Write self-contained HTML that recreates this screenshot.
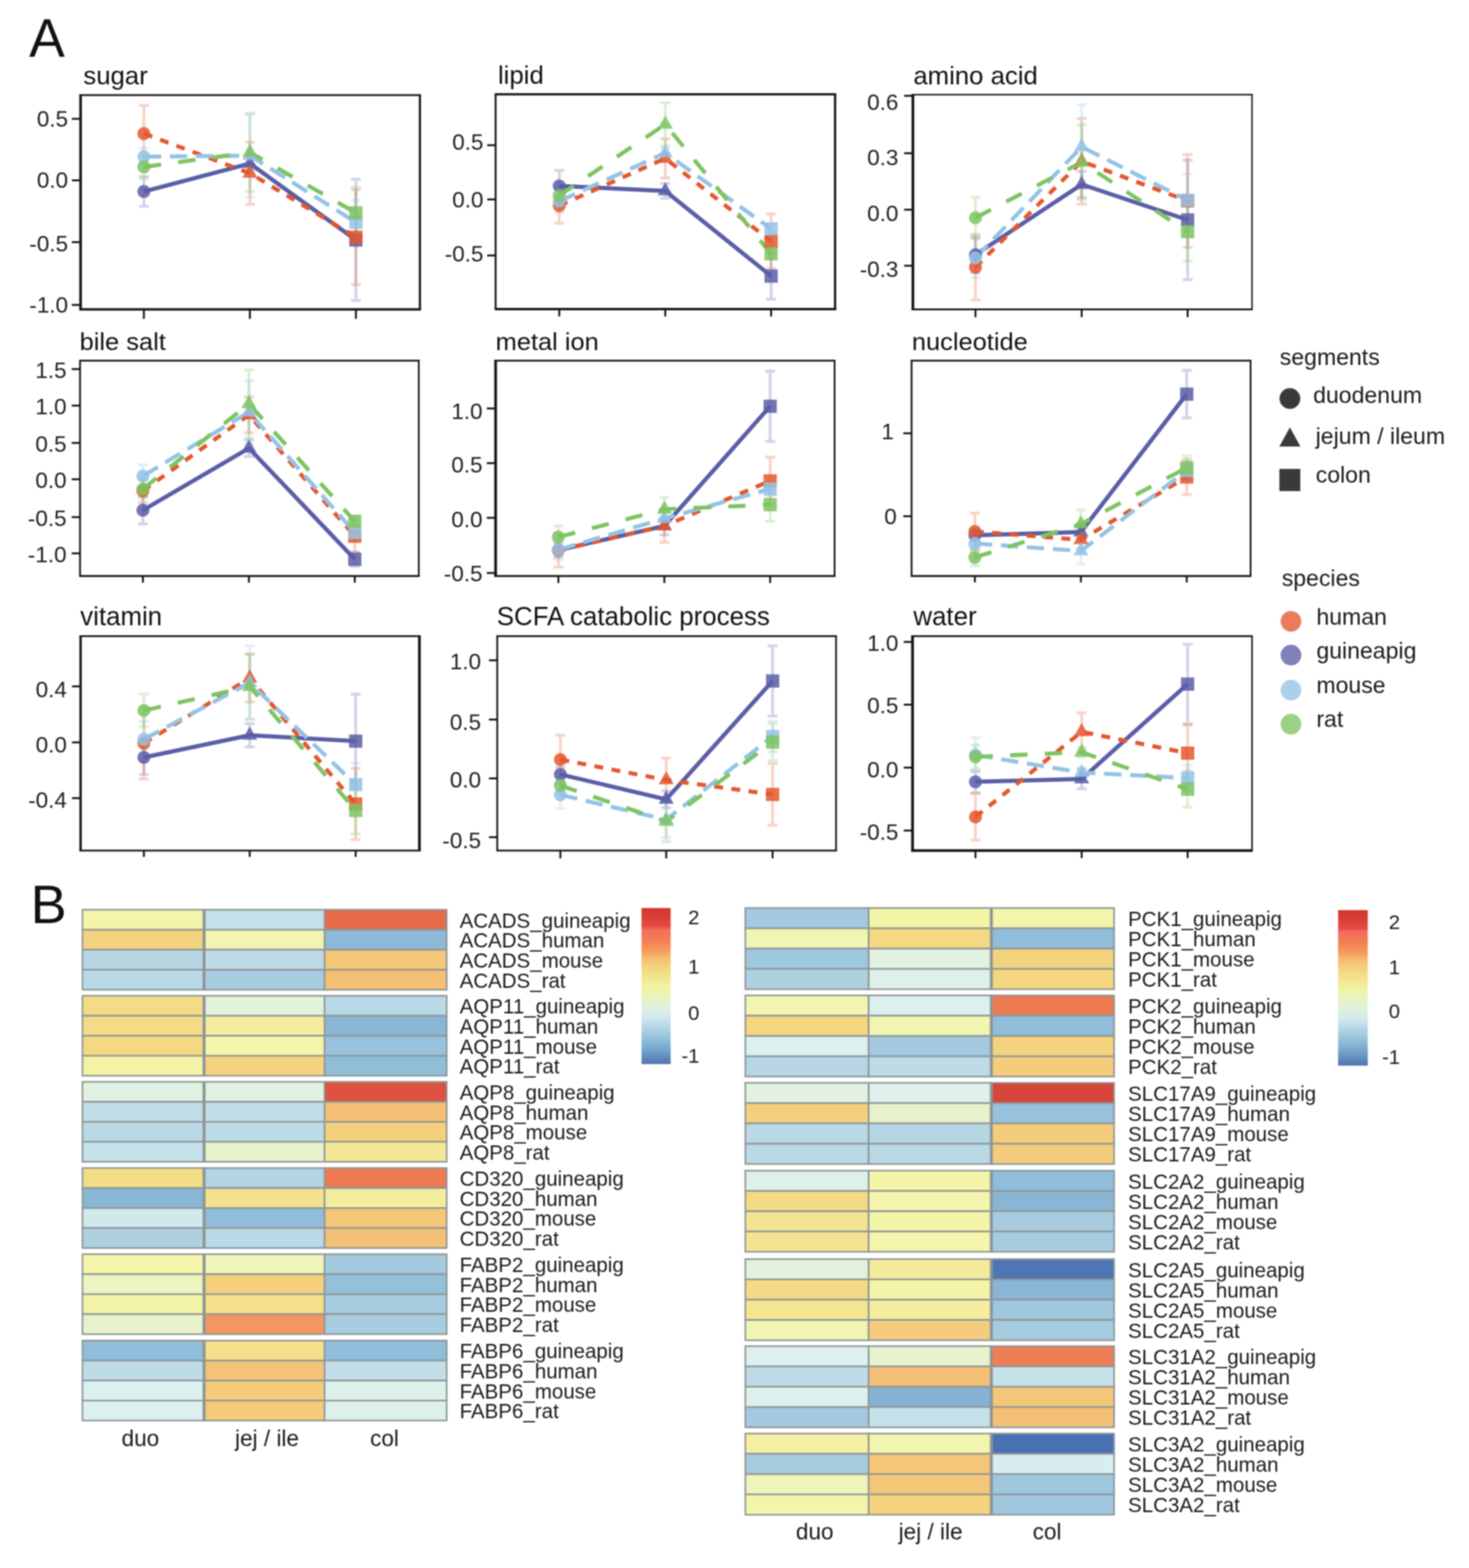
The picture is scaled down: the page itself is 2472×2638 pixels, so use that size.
<!DOCTYPE html>
<html lang="en">
<head>
<meta charset="utf-8">
<title>Figure: transporter expression along intestinal segments</title>
<style>
html,body{margin:0;padding:0;background:#fff;}
body{width:2472px;height:2638px;overflow:hidden;}
svg{display:block;filter:blur(0.8px);}
text{font-family:"Liberation Sans", sans-serif;}
</style>
</head>
<body>
<svg width="2472" height="2638" viewBox="0 0 2472 2638" font-family='"Liberation Sans", sans-serif' role="img" aria-label="Transporter expression along intestinal segments in four species">
<rect x="0" y="0" width="2472" height="2638" fill="#ffffff"/>
<text x="49.0" y="95.2" font-size="90" text-anchor="start" fill="#111">A</text>
<text x="51.5" y="1553.2" font-size="91" text-anchor="start" fill="#111">B</text>
<g>
<path d="M233.8,297.2H250.4M242.1,297.2V347.2M233.8,347.2H250.4" stroke="#5a5ea6" stroke-width="4.8" stroke-opacity="0.27" fill="none"/>
<path d="M412.2,265.2H428.8M420.5,265.2V285.2M412.2,285.2H428.8" stroke="#5a5ea6" stroke-width="4.8" stroke-opacity="0.27" fill="none"/>
<path d="M590.6,301.7H607.2M598.9,301.7V505.7M590.6,505.7H607.2" stroke="#5a5ea6" stroke-width="4.8" stroke-opacity="0.27" fill="none"/>
<path d="M233.8,177.4H250.4M242.1,177.4V272.0M233.8,272.0H250.4" stroke="#e4572e" stroke-width="4.8" stroke-opacity="0.27" fill="none"/>
<path d="M412.2,239.2H428.8M420.5,239.2V343.8M412.2,343.8H428.8" stroke="#e4572e" stroke-width="4.8" stroke-opacity="0.27" fill="none"/>
<path d="M590.6,319.0H607.2M598.9,319.0V479.0M590.6,479.0H607.2" stroke="#e4572e" stroke-width="4.8" stroke-opacity="0.27" fill="none"/>
<path d="M233.8,249.6H250.4M242.1,249.6V277.6M233.8,277.6H250.4" stroke="#94c3e6" stroke-width="4.8" stroke-opacity="0.27" fill="none"/>
<path d="M412.2,192.3H428.8M420.5,192.3V331.3M412.2,331.3H428.8" stroke="#94c3e6" stroke-width="4.8" stroke-opacity="0.27" fill="none"/>
<path d="M590.6,337.0H607.2M598.9,337.0V411.0M590.6,411.0H607.2" stroke="#94c3e6" stroke-width="4.8" stroke-opacity="0.27" fill="none"/>
<path d="M233.8,260.8H250.4M242.1,260.8V300.8M233.8,300.8H250.4" stroke="#7dc462" stroke-width="4.8" stroke-opacity="0.27" fill="none"/>
<path d="M412.2,190.5H428.8M420.5,190.5V322.5M412.2,322.5H428.8" stroke="#7dc462" stroke-width="4.8" stroke-opacity="0.27" fill="none"/>
<path d="M590.6,315.0H607.2M598.9,315.0V401.0M590.6,401.0H607.2" stroke="#7dc462" stroke-width="4.8" stroke-opacity="0.27" fill="none"/>
<polyline points="242.1,322.2 420.5,275.2 598.9,403.7" fill="none" stroke="#5a5ea6" stroke-width="7.0" stroke-linejoin="round"/>
<polyline points="242.1,224.7 420.5,291.5 598.9,399.0" fill="none" stroke="#e4572e" stroke-width="6.8" stroke-linejoin="round" stroke-dasharray="15.0 14.2"/>
<polyline points="242.1,263.6 420.5,261.8 598.9,374.0" fill="none" stroke="#94c3e6" stroke-width="6.8" stroke-linejoin="round" stroke-dasharray="29.2 14.6"/>
<polyline points="242.1,280.8 420.5,256.5 598.9,358.0" fill="none" stroke="#7dc462" stroke-width="6.8" stroke-linejoin="round" stroke-dasharray="29.2 29.2"/>
<circle cx="242.1" cy="322.2" r="10.9" fill="#5a5ea6" fill-opacity="0.85"/>
<polygon points="420.5,260.4 433.3,282.6 407.7,282.6" fill="#5a5ea6" fill-opacity="0.85"/>
<rect x="587.8" y="392.6" width="22.3" height="22.3" fill="#5a5ea6" fill-opacity="0.85"/>
<circle cx="242.1" cy="224.7" r="10.9" fill="#e4572e" fill-opacity="0.85"/>
<polygon points="420.5,276.7 433.3,298.9 407.7,298.9" fill="#e4572e" fill-opacity="0.85"/>
<rect x="587.8" y="387.9" width="22.3" height="22.3" fill="#e4572e" fill-opacity="0.85"/>
<circle cx="242.1" cy="263.6" r="10.9" fill="#94c3e6" fill-opacity="0.85"/>
<polygon points="420.5,247.0 433.3,269.2 407.7,269.2" fill="#94c3e6" fill-opacity="0.85"/>
<rect x="587.8" y="362.9" width="22.3" height="22.3" fill="#94c3e6" fill-opacity="0.85"/>
<circle cx="242.1" cy="280.8" r="10.9" fill="#7dc462" fill-opacity="0.85"/>
<polygon points="420.5,241.7 433.3,263.9 407.7,263.9" fill="#7dc462" fill-opacity="0.85"/>
<rect x="587.8" y="346.9" width="22.3" height="22.3" fill="#7dc462" fill-opacity="0.85"/>
<line x1="133.4" y1="160.0" x2="708.4" y2="160.0" stroke="#141414" stroke-width="3.2"/>
<line x1="133.4" y1="520.5" x2="708.4" y2="520.5" stroke="#141414" stroke-width="3.8"/>
<line x1="135.6" y1="160.0" x2="135.6" y2="520.5" stroke="#141414" stroke-width="4.4"/>
<line x1="706.6" y1="160.0" x2="706.6" y2="520.5" stroke="#141414" stroke-width="3.6"/>
<line x1="242.1" y1="520.5" x2="242.1" y2="536.4" stroke="#141414" stroke-width="3.2"/>
<line x1="420.5" y1="520.5" x2="420.5" y2="536.4" stroke="#141414" stroke-width="3.2"/>
<line x1="598.9" y1="520.5" x2="598.9" y2="536.4" stroke="#141414" stroke-width="3.2"/>
<line x1="120.9" y1="199.9" x2="135.6" y2="199.9" stroke="#141414" stroke-width="3.2"/>
<text x="114.5" y="212.9" font-size="37.8" text-anchor="end" fill="#222">0.5</text>
<line x1="120.9" y1="303.4" x2="135.6" y2="303.4" stroke="#141414" stroke-width="3.2"/>
<text x="114.5" y="315.7" font-size="37.8" text-anchor="end" fill="#222">0.0</text>
<line x1="120.9" y1="407.4" x2="135.6" y2="407.4" stroke="#141414" stroke-width="3.2"/>
<text x="114.5" y="422.7" font-size="37.8" text-anchor="end" fill="#222">-0.5</text>
<line x1="120.9" y1="513.0" x2="135.6" y2="513.0" stroke="#141414" stroke-width="3.2"/>
<text x="114.5" y="526.0" font-size="37.8" text-anchor="end" fill="#222">-1.0</text>
<text transform="translate(140.3,141.6) scale(1.0,1)" font-size="43.3" fill="#111">sugar</text>
</g>
<g>
<path d="M932.8,286.8H949.4M941.1,286.8V338.8M932.8,338.8H949.4" stroke="#5a5ea6" stroke-width="4.8" stroke-opacity="0.27" fill="none"/>
<path d="M1111.2,308.7H1127.8M1119.5,308.7V333.7M1111.2,333.7H1127.8" stroke="#5a5ea6" stroke-width="4.8" stroke-opacity="0.27" fill="none"/>
<path d="M1289.3,425.4H1305.9M1297.6,425.4V503.4M1289.3,503.4H1305.9" stroke="#5a5ea6" stroke-width="4.8" stroke-opacity="0.27" fill="none"/>
<path d="M932.8,316.5H949.4M941.1,316.5V375.7M932.8,375.7H949.4" stroke="#e4572e" stroke-width="4.8" stroke-opacity="0.27" fill="none"/>
<path d="M1111.2,233.5H1127.8M1119.5,233.5V299.5M1111.2,299.5H1127.8" stroke="#e4572e" stroke-width="4.8" stroke-opacity="0.27" fill="none"/>
<path d="M1289.3,359.9H1305.9M1297.6,359.9V451.9M1289.3,451.9H1305.9" stroke="#e4572e" stroke-width="4.8" stroke-opacity="0.27" fill="none"/>
<path d="M932.8,318.4H949.4M941.1,318.4V358.4M932.8,358.4H949.4" stroke="#94c3e6" stroke-width="4.8" stroke-opacity="0.27" fill="none"/>
<path d="M1111.2,248.4H1127.8M1119.5,248.4V266.4M1111.2,266.4H1127.8" stroke="#94c3e6" stroke-width="4.8" stroke-opacity="0.27" fill="none"/>
<path d="M1289.3,377.0H1305.9M1297.6,377.0V393.0M1289.3,393.0H1305.9" stroke="#94c3e6" stroke-width="4.8" stroke-opacity="0.27" fill="none"/>
<path d="M932.8,314.0H949.4M941.1,314.0V344.0M932.8,344.0H949.4" stroke="#7dc462" stroke-width="4.8" stroke-opacity="0.27" fill="none"/>
<path d="M1111.2,173.2H1127.8M1119.5,173.2V245.2M1111.2,245.2H1127.8" stroke="#7dc462" stroke-width="4.8" stroke-opacity="0.27" fill="none"/>
<path d="M1289.3,419.0H1305.9M1297.6,419.0V435.0M1289.3,435.0H1305.9" stroke="#7dc462" stroke-width="4.8" stroke-opacity="0.27" fill="none"/>
<polyline points="941.1,312.8 1119.5,321.2 1297.6,464.4" fill="none" stroke="#5a5ea6" stroke-width="7.0" stroke-linejoin="round"/>
<polyline points="941.1,346.1 1119.5,266.5 1297.6,405.9" fill="none" stroke="#e4572e" stroke-width="6.8" stroke-linejoin="round" stroke-dasharray="15.0 14.2"/>
<polyline points="941.1,338.4 1119.5,257.4 1297.6,385.0" fill="none" stroke="#94c3e6" stroke-width="6.8" stroke-linejoin="round" stroke-dasharray="29.2 14.6"/>
<polyline points="941.1,329.0 1119.5,209.2 1297.6,427.0" fill="none" stroke="#7dc462" stroke-width="6.8" stroke-linejoin="round" stroke-dasharray="29.2 29.2"/>
<circle cx="941.1" cy="312.8" r="10.9" fill="#5a5ea6" fill-opacity="0.85"/>
<polygon points="1119.5,306.4 1132.3,328.6 1106.7,328.6" fill="#5a5ea6" fill-opacity="0.85"/>
<rect x="1286.5" y="453.3" width="22.3" height="22.3" fill="#5a5ea6" fill-opacity="0.85"/>
<circle cx="941.1" cy="346.1" r="10.9" fill="#e4572e" fill-opacity="0.85"/>
<polygon points="1119.5,251.7 1132.3,273.9 1106.7,273.9" fill="#e4572e" fill-opacity="0.85"/>
<rect x="1286.5" y="394.8" width="22.3" height="22.3" fill="#e4572e" fill-opacity="0.85"/>
<circle cx="941.1" cy="338.4" r="10.9" fill="#94c3e6" fill-opacity="0.85"/>
<polygon points="1119.5,242.6 1132.3,264.8 1106.7,264.8" fill="#94c3e6" fill-opacity="0.85"/>
<rect x="1286.5" y="373.9" width="22.3" height="22.3" fill="#94c3e6" fill-opacity="0.85"/>
<circle cx="941.1" cy="329.0" r="10.9" fill="#7dc462" fill-opacity="0.85"/>
<polygon points="1119.5,194.4 1132.3,216.6 1106.7,216.6" fill="#7dc462" fill-opacity="0.85"/>
<rect x="1286.5" y="415.9" width="22.3" height="22.3" fill="#7dc462" fill-opacity="0.85"/>
<line x1="832.4" y1="158.7" x2="1407.2" y2="158.7" stroke="#141414" stroke-width="3.8"/>
<line x1="832.4" y1="520.0" x2="1407.2" y2="520.0" stroke="#141414" stroke-width="3.8"/>
<line x1="834.0" y1="158.7" x2="834.0" y2="520.0" stroke="#141414" stroke-width="3.2"/>
<line x1="1405.3" y1="158.7" x2="1405.3" y2="520.0" stroke="#141414" stroke-width="3.8"/>
<line x1="941.1" y1="520.0" x2="941.1" y2="532.4" stroke="#141414" stroke-width="3.2"/>
<line x1="1119.5" y1="520.0" x2="1119.5" y2="532.4" stroke="#141414" stroke-width="3.2"/>
<line x1="1297.6" y1="520.0" x2="1297.6" y2="532.4" stroke="#141414" stroke-width="3.2"/>
<line x1="819.9" y1="244.3" x2="834.0" y2="244.3" stroke="#141414" stroke-width="3.2"/>
<text x="813.6" y="251.5" font-size="37.8" text-anchor="end" fill="#222">0.5</text>
<line x1="819.9" y1="335.5" x2="834.0" y2="335.5" stroke="#141414" stroke-width="3.2"/>
<text x="813.6" y="348.5" font-size="37.8" text-anchor="end" fill="#222">0.0</text>
<line x1="819.9" y1="429.8" x2="834.0" y2="429.8" stroke="#141414" stroke-width="3.2"/>
<text x="813.6" y="440.0" font-size="37.8" text-anchor="end" fill="#222">-0.5</text>
<text transform="translate(838.0,140.8) scale(1.0,1)" font-size="43.3" fill="#111">lipid</text>
</g>
<g>
<path d="M1633.2,398.6H1649.8M1641.5,398.6V458.6M1633.2,458.6H1649.8" stroke="#5a5ea6" stroke-width="4.8" stroke-opacity="0.27" fill="none"/>
<path d="M1811.9,288.3H1828.5M1820.2,288.3V332.3M1811.9,332.3H1828.5" stroke="#5a5ea6" stroke-width="4.8" stroke-opacity="0.27" fill="none"/>
<path d="M1990.2,269.5H2006.8M1998.5,269.5V470.5M1990.2,470.5H2006.8" stroke="#5a5ea6" stroke-width="4.8" stroke-opacity="0.27" fill="none"/>
<path d="M1633.2,394.5H1649.8M1641.5,394.5V504.5M1633.2,504.5H1649.8" stroke="#e4572e" stroke-width="4.8" stroke-opacity="0.27" fill="none"/>
<path d="M1811.9,199.4H1828.5M1820.2,199.4V343.4M1811.9,343.4H1828.5" stroke="#e4572e" stroke-width="4.8" stroke-opacity="0.27" fill="none"/>
<path d="M1990.2,260.0H2006.8M1998.5,260.0V416.0M1990.2,416.0H2006.8" stroke="#e4572e" stroke-width="4.8" stroke-opacity="0.27" fill="none"/>
<path d="M1633.2,401.0H1649.8M1641.5,401.0V467.0M1633.2,467.0H1649.8" stroke="#94c3e6" stroke-width="4.8" stroke-opacity="0.27" fill="none"/>
<path d="M1811.9,176.5H1828.5M1820.2,176.5V317.7M1811.9,317.7H1828.5" stroke="#94c3e6" stroke-width="4.8" stroke-opacity="0.27" fill="none"/>
<path d="M1990.2,293.2H2006.8M1998.5,293.2V380.4M1990.2,380.4H2006.8" stroke="#94c3e6" stroke-width="4.8" stroke-opacity="0.27" fill="none"/>
<path d="M1633.2,331.4H1649.8M1641.5,331.4V401.4M1633.2,401.4H1649.8" stroke="#7dc462" stroke-width="4.8" stroke-opacity="0.27" fill="none"/>
<path d="M1811.9,210.0H1828.5M1820.2,210.0V336.0M1811.9,336.0H1828.5" stroke="#7dc462" stroke-width="4.8" stroke-opacity="0.27" fill="none"/>
<path d="M1990.2,339.7H2006.8M1998.5,339.7V439.7M1990.2,439.7H2006.8" stroke="#7dc462" stroke-width="4.8" stroke-opacity="0.27" fill="none"/>
<polyline points="1641.5,428.6 1820.2,310.3 1998.5,370.0" fill="none" stroke="#5a5ea6" stroke-width="7.0" stroke-linejoin="round"/>
<polyline points="1641.5,449.5 1820.2,271.4 1998.5,338.0" fill="none" stroke="#e4572e" stroke-width="6.8" stroke-linejoin="round" stroke-dasharray="15.0 14.2"/>
<polyline points="1641.5,434.0 1820.2,247.1 1998.5,336.8" fill="none" stroke="#94c3e6" stroke-width="6.8" stroke-linejoin="round" stroke-dasharray="29.2 14.6"/>
<polyline points="1641.5,366.4 1820.2,273.0 1998.5,389.7" fill="none" stroke="#7dc462" stroke-width="6.8" stroke-linejoin="round" stroke-dasharray="29.2 29.2"/>
<circle cx="1641.5" cy="428.6" r="10.9" fill="#5a5ea6" fill-opacity="0.85"/>
<polygon points="1820.2,295.5 1833.0,317.7 1807.4,317.7" fill="#5a5ea6" fill-opacity="0.85"/>
<rect x="1987.4" y="358.9" width="22.3" height="22.3" fill="#5a5ea6" fill-opacity="0.85"/>
<circle cx="1641.5" cy="449.5" r="10.9" fill="#e4572e" fill-opacity="0.85"/>
<polygon points="1820.2,256.6 1833.0,278.8 1807.4,278.8" fill="#e4572e" fill-opacity="0.85"/>
<rect x="1987.4" y="326.9" width="22.3" height="22.3" fill="#e4572e" fill-opacity="0.85"/>
<circle cx="1641.5" cy="434.0" r="10.9" fill="#94c3e6" fill-opacity="0.85"/>
<polygon points="1820.2,232.3 1833.0,254.5 1807.4,254.5" fill="#94c3e6" fill-opacity="0.85"/>
<rect x="1987.4" y="325.7" width="22.3" height="22.3" fill="#94c3e6" fill-opacity="0.85"/>
<circle cx="1641.5" cy="366.4" r="10.9" fill="#7dc462" fill-opacity="0.85"/>
<polygon points="1820.2,258.2 1833.0,280.4 1807.4,280.4" fill="#7dc462" fill-opacity="0.85"/>
<rect x="1987.4" y="378.6" width="22.3" height="22.3" fill="#7dc462" fill-opacity="0.85"/>
<line x1="1533.9" y1="159.3" x2="2108.1" y2="159.3" stroke="#141414" stroke-width="2.4"/>
<line x1="1533.9" y1="520.5" x2="2108.1" y2="520.5" stroke="#141414" stroke-width="3.2"/>
<line x1="1536.2" y1="159.3" x2="1536.2" y2="520.5" stroke="#141414" stroke-width="4.6"/>
<line x1="2106.9" y1="159.3" x2="2106.9" y2="520.5" stroke="#141414" stroke-width="2.4"/>
<line x1="1641.5" y1="520.5" x2="1641.5" y2="533.6" stroke="#141414" stroke-width="3.2"/>
<line x1="1820.2" y1="520.5" x2="1820.2" y2="533.6" stroke="#141414" stroke-width="3.2"/>
<line x1="1998.5" y1="520.5" x2="1998.5" y2="533.6" stroke="#141414" stroke-width="3.2"/>
<line x1="1521.4" y1="161.2" x2="1536.2" y2="161.2" stroke="#141414" stroke-width="3.2"/>
<text x="1511.9" y="184.6" font-size="37.8" text-anchor="end" fill="#222">0.6</text>
<line x1="1521.4" y1="257.8" x2="1536.2" y2="257.8" stroke="#141414" stroke-width="3.2"/>
<text x="1511.9" y="277.7" font-size="37.8" text-anchor="end" fill="#222">0.3</text>
<line x1="1521.4" y1="352.8" x2="1536.2" y2="352.8" stroke="#141414" stroke-width="3.2"/>
<text x="1511.9" y="372.1" font-size="37.8" text-anchor="end" fill="#222">0.0</text>
<line x1="1521.4" y1="447.1" x2="1536.2" y2="447.1" stroke="#141414" stroke-width="3.2"/>
<text x="1511.9" y="465.9" font-size="37.8" text-anchor="end" fill="#222">-0.3</text>
<text transform="translate(1537.0,141.6) scale(1.0,1)" font-size="43.3" fill="#111">amino acid</text>
</g>
<g>
<path d="M232.2,835.4H248.8M240.5,835.4V881.4M232.2,881.4H248.8" stroke="#5a5ea6" stroke-width="4.8" stroke-opacity="0.27" fill="none"/>
<path d="M410.6,740.1H427.2M418.9,740.1V768.1M410.6,768.1H427.2" stroke="#5a5ea6" stroke-width="4.8" stroke-opacity="0.27" fill="none"/>
<path d="M588.7,928.9H605.3M597.0,928.9V952.9M588.7,952.9H605.3" stroke="#5a5ea6" stroke-width="4.8" stroke-opacity="0.27" fill="none"/>
<path d="M232.2,805.7H248.8M240.5,805.7V845.7M232.2,845.7H248.8" stroke="#e4572e" stroke-width="4.8" stroke-opacity="0.27" fill="none"/>
<path d="M410.6,668.0H427.2M418.9,668.0V728.0M410.6,728.0H427.2" stroke="#e4572e" stroke-width="4.8" stroke-opacity="0.27" fill="none"/>
<path d="M588.7,874.0H605.3M597.0,874.0V930.0M588.7,930.0H605.3" stroke="#e4572e" stroke-width="4.8" stroke-opacity="0.27" fill="none"/>
<path d="M232.2,781.8H248.8M240.5,781.8V819.8M232.2,819.8H248.8" stroke="#94c3e6" stroke-width="4.8" stroke-opacity="0.27" fill="none"/>
<path d="M410.6,640.4H427.2M418.9,640.4V746.4M410.6,746.4H427.2" stroke="#94c3e6" stroke-width="4.8" stroke-opacity="0.27" fill="none"/>
<path d="M588.7,880.8H605.3M597.0,880.8V910.8M588.7,910.8H605.3" stroke="#94c3e6" stroke-width="4.8" stroke-opacity="0.27" fill="none"/>
<path d="M232.2,807.6H248.8M240.5,807.6V837.6M232.2,837.6H248.8" stroke="#7dc462" stroke-width="4.8" stroke-opacity="0.27" fill="none"/>
<path d="M410.6,622.4H427.2M418.9,622.4V736.4M410.6,736.4H427.2" stroke="#7dc462" stroke-width="4.8" stroke-opacity="0.27" fill="none"/>
<path d="M588.7,868.0H605.3M597.0,868.0V886.0M588.7,886.0H605.3" stroke="#7dc462" stroke-width="4.8" stroke-opacity="0.27" fill="none"/>
<polyline points="240.5,858.4 418.9,754.1 597.0,940.9" fill="none" stroke="#5a5ea6" stroke-width="7.0" stroke-linejoin="round"/>
<polyline points="240.5,825.7 418.9,698.0 597.0,902.0" fill="none" stroke="#e4572e" stroke-width="6.8" stroke-linejoin="round" stroke-dasharray="15.0 14.2"/>
<polyline points="240.5,800.8 418.9,693.4 597.0,895.8" fill="none" stroke="#94c3e6" stroke-width="6.8" stroke-linejoin="round" stroke-dasharray="29.2 14.6"/>
<polyline points="240.5,822.6 418.9,679.4 597.0,877.0" fill="none" stroke="#7dc462" stroke-width="6.8" stroke-linejoin="round" stroke-dasharray="29.2 29.2"/>
<circle cx="240.5" cy="858.4" r="10.9" fill="#5a5ea6" fill-opacity="0.85"/>
<polygon points="418.9,739.3 431.7,761.5 406.1,761.5" fill="#5a5ea6" fill-opacity="0.85"/>
<rect x="585.9" y="929.8" width="22.3" height="22.3" fill="#5a5ea6" fill-opacity="0.85"/>
<circle cx="240.5" cy="825.7" r="10.9" fill="#e4572e" fill-opacity="0.85"/>
<polygon points="418.9,683.2 431.7,705.4 406.1,705.4" fill="#e4572e" fill-opacity="0.85"/>
<rect x="585.9" y="890.9" width="22.3" height="22.3" fill="#e4572e" fill-opacity="0.85"/>
<circle cx="240.5" cy="800.8" r="10.9" fill="#94c3e6" fill-opacity="0.85"/>
<polygon points="418.9,678.6 431.7,700.8 406.1,700.8" fill="#94c3e6" fill-opacity="0.85"/>
<rect x="585.9" y="884.7" width="22.3" height="22.3" fill="#94c3e6" fill-opacity="0.85"/>
<circle cx="240.5" cy="822.6" r="10.9" fill="#7dc462" fill-opacity="0.85"/>
<polygon points="418.9,664.6 431.7,686.8 406.1,686.8" fill="#7dc462" fill-opacity="0.85"/>
<rect x="585.9" y="865.9" width="22.3" height="22.3" fill="#7dc462" fill-opacity="0.85"/>
<line x1="133.2" y1="606.8" x2="706.2" y2="606.8" stroke="#141414" stroke-width="2.9"/>
<line x1="133.2" y1="969.2" x2="706.2" y2="969.2" stroke="#141414" stroke-width="3.2"/>
<line x1="134.7" y1="606.8" x2="134.7" y2="969.2" stroke="#141414" stroke-width="3.0"/>
<line x1="704.7" y1="606.8" x2="704.7" y2="969.2" stroke="#141414" stroke-width="2.9"/>
<line x1="240.5" y1="969.2" x2="240.5" y2="980.3" stroke="#141414" stroke-width="3.2"/>
<line x1="418.9" y1="969.2" x2="418.9" y2="980.3" stroke="#141414" stroke-width="3.2"/>
<line x1="597.0" y1="969.2" x2="597.0" y2="980.3" stroke="#141414" stroke-width="3.2"/>
<line x1="120.7" y1="620.9" x2="134.7" y2="620.9" stroke="#141414" stroke-width="3.2"/>
<text x="112.0" y="635.9" font-size="37.8" text-anchor="end" fill="#222">1.5</text>
<line x1="120.7" y1="682.4" x2="134.7" y2="682.4" stroke="#141414" stroke-width="3.2"/>
<text x="112.0" y="697.4" font-size="37.8" text-anchor="end" fill="#222">1.0</text>
<line x1="120.7" y1="745.2" x2="134.7" y2="745.2" stroke="#141414" stroke-width="3.2"/>
<text x="112.0" y="760.2" font-size="37.8" text-anchor="end" fill="#222">0.5</text>
<line x1="120.7" y1="806.3" x2="134.7" y2="806.3" stroke="#141414" stroke-width="3.2"/>
<text x="112.0" y="821.3" font-size="37.8" text-anchor="end" fill="#222">0.0</text>
<line x1="120.7" y1="870.0" x2="134.7" y2="870.0" stroke="#141414" stroke-width="3.2"/>
<text x="112.0" y="885.0" font-size="37.8" text-anchor="end" fill="#222">-0.5</text>
<line x1="120.7" y1="931.0" x2="134.7" y2="931.0" stroke="#141414" stroke-width="3.2"/>
<text x="112.0" y="946.0" font-size="37.8" text-anchor="end" fill="#222">-1.0</text>
<text transform="translate(134.0,588.5) scale(1.07,1)" font-size="40" fill="#111">bile salt</text>
</g>
<g>
<path d="M931.3,913.5H947.9M939.6,913.5V937.5M931.3,937.5H947.9" stroke="#5a5ea6" stroke-width="4.8" stroke-opacity="0.27" fill="none"/>
<path d="M1109.7,869.9H1126.3M1118.0,869.9V899.9M1109.7,899.9H1126.3" stroke="#5a5ea6" stroke-width="4.8" stroke-opacity="0.27" fill="none"/>
<path d="M1287.7,624.5H1304.3M1296.0,624.5V742.5M1287.7,742.5H1304.3" stroke="#5a5ea6" stroke-width="4.8" stroke-opacity="0.27" fill="none"/>
<path d="M931.3,898.0H947.9M939.6,898.0V954.0M931.3,954.0H947.9" stroke="#e4572e" stroke-width="4.8" stroke-opacity="0.27" fill="none"/>
<path d="M1109.7,857.5H1126.3M1118.0,857.5V912.3M1109.7,912.3H1126.3" stroke="#e4572e" stroke-width="4.8" stroke-opacity="0.27" fill="none"/>
<path d="M1287.7,769.0H1304.3M1296.0,769.0V849.0M1287.7,849.0H1304.3" stroke="#e4572e" stroke-width="4.8" stroke-opacity="0.27" fill="none"/>
<path d="M931.3,909.0H947.9M939.6,909.0V941.0M931.3,941.0H947.9" stroke="#94c3e6" stroke-width="4.8" stroke-opacity="0.27" fill="none"/>
<path d="M1109.7,857.4H1126.3M1118.0,857.4V887.4M1109.7,887.4H1126.3" stroke="#94c3e6" stroke-width="4.8" stroke-opacity="0.27" fill="none"/>
<path d="M1287.7,810.6H1304.3M1296.0,810.6V834.6M1287.7,834.6H1304.3" stroke="#94c3e6" stroke-width="4.8" stroke-opacity="0.27" fill="none"/>
<path d="M931.3,884.9H947.9M939.6,884.9V922.1M931.3,922.1H947.9" stroke="#7dc462" stroke-width="4.8" stroke-opacity="0.27" fill="none"/>
<path d="M1109.7,836.8H1126.3M1118.0,836.8V876.8M1109.7,876.8H1126.3" stroke="#7dc462" stroke-width="4.8" stroke-opacity="0.27" fill="none"/>
<path d="M1287.7,821.0H1304.3M1296.0,821.0V877.0M1287.7,877.0H1304.3" stroke="#7dc462" stroke-width="4.8" stroke-opacity="0.27" fill="none"/>
<polyline points="939.6,925.5 1118.0,884.9 1296.0,683.5" fill="none" stroke="#5a5ea6" stroke-width="7.0" stroke-linejoin="round"/>
<polyline points="939.6,926.0 1118.0,884.9 1296.0,809.0" fill="none" stroke="#e4572e" stroke-width="6.8" stroke-linejoin="round" stroke-dasharray="15.0 14.2"/>
<polyline points="939.6,925.0 1118.0,872.4 1296.0,822.6" fill="none" stroke="#94c3e6" stroke-width="6.8" stroke-linejoin="round" stroke-dasharray="29.2 14.6"/>
<polyline points="939.6,903.5 1118.0,856.8 1296.0,849.0" fill="none" stroke="#7dc462" stroke-width="6.8" stroke-linejoin="round" stroke-dasharray="29.2 29.2"/>
<circle cx="939.6" cy="925.5" r="10.9" fill="#5a5ea6" fill-opacity="0.85"/>
<polygon points="1118.0,870.1 1130.8,892.3 1105.2,892.3" fill="#5a5ea6" fill-opacity="0.85"/>
<rect x="1284.9" y="672.4" width="22.3" height="22.3" fill="#5a5ea6" fill-opacity="0.85"/>
<circle cx="939.6" cy="926.0" r="10.9" fill="#e4572e" fill-opacity="0.85"/>
<polygon points="1118.0,870.1 1130.8,892.3 1105.2,892.3" fill="#e4572e" fill-opacity="0.85"/>
<rect x="1284.9" y="797.9" width="22.3" height="22.3" fill="#e4572e" fill-opacity="0.85"/>
<circle cx="939.6" cy="925.0" r="10.9" fill="#94c3e6" fill-opacity="0.85"/>
<polygon points="1118.0,857.6 1130.8,879.8 1105.2,879.8" fill="#94c3e6" fill-opacity="0.85"/>
<rect x="1284.9" y="811.5" width="22.3" height="22.3" fill="#94c3e6" fill-opacity="0.85"/>
<circle cx="939.6" cy="903.5" r="10.9" fill="#7dc462" fill-opacity="0.85"/>
<polygon points="1118.0,842.0 1130.8,864.2 1105.2,864.2" fill="#7dc462" fill-opacity="0.85"/>
<rect x="1284.9" y="837.9" width="22.3" height="22.3" fill="#7dc462" fill-opacity="0.85"/>
<line x1="831.7" y1="606.8" x2="1405.9" y2="606.8" stroke="#141414" stroke-width="2.9"/>
<line x1="831.7" y1="969.2" x2="1405.9" y2="969.2" stroke="#141414" stroke-width="3.2"/>
<line x1="834.0" y1="606.8" x2="834.0" y2="969.2" stroke="#141414" stroke-width="4.6"/>
<line x1="1404.4" y1="606.8" x2="1404.4" y2="969.2" stroke="#141414" stroke-width="2.9"/>
<line x1="939.6" y1="969.2" x2="939.6" y2="980.8" stroke="#141414" stroke-width="3.2"/>
<line x1="1118.0" y1="969.2" x2="1118.0" y2="980.8" stroke="#141414" stroke-width="3.2"/>
<line x1="1296.0" y1="969.2" x2="1296.0" y2="980.8" stroke="#141414" stroke-width="3.2"/>
<line x1="819.2" y1="687.2" x2="834.0" y2="687.2" stroke="#141414" stroke-width="3.2"/>
<text x="812.0" y="704.8" font-size="37.8" text-anchor="end" fill="#222">1.0</text>
<line x1="819.2" y1="779.2" x2="834.0" y2="779.2" stroke="#141414" stroke-width="3.2"/>
<text x="812.0" y="794.5" font-size="37.8" text-anchor="end" fill="#222">0.5</text>
<line x1="819.2" y1="871.2" x2="834.0" y2="871.2" stroke="#141414" stroke-width="3.2"/>
<text x="812.0" y="886.5" font-size="37.8" text-anchor="end" fill="#222">0.0</text>
<line x1="819.2" y1="964.0" x2="834.0" y2="964.0" stroke="#141414" stroke-width="3.2"/>
<text x="812.0" y="977.7" font-size="37.8" text-anchor="end" fill="#222">-0.5</text>
<text transform="translate(834.0,588.5) scale(1.07,1)" font-size="40" fill="#111">metal ion</text>
</g>
<g>
<path d="M1632.2,890.4H1648.8M1640.5,890.4V910.4M1632.2,910.4H1648.8" stroke="#5a5ea6" stroke-width="4.8" stroke-opacity="0.27" fill="none"/>
<path d="M1810.6,883.1H1827.2M1818.9,883.1V907.1M1810.6,907.1H1827.2" stroke="#5a5ea6" stroke-width="4.8" stroke-opacity="0.27" fill="none"/>
<path d="M1988.7,623.0H2005.3M1997.0,623.0V703.0M1988.7,703.0H2005.3" stroke="#5a5ea6" stroke-width="4.8" stroke-opacity="0.27" fill="none"/>
<path d="M1632.2,863.2H1648.8M1640.5,863.2V925.2M1632.2,925.2H1648.8" stroke="#e4572e" stroke-width="4.8" stroke-opacity="0.27" fill="none"/>
<path d="M1810.6,893.2H1827.2M1818.9,893.2V923.2M1810.6,923.2H1827.2" stroke="#e4572e" stroke-width="4.8" stroke-opacity="0.27" fill="none"/>
<path d="M1988.7,772.9H2005.3M1997.0,772.9V831.9M1988.7,831.9H2005.3" stroke="#e4572e" stroke-width="4.8" stroke-opacity="0.27" fill="none"/>
<path d="M1632.2,902.4H1648.8M1640.5,902.4V926.4M1632.2,926.4H1648.8" stroke="#94c3e6" stroke-width="4.8" stroke-opacity="0.27" fill="none"/>
<path d="M1810.6,905.1H1827.2M1818.9,905.1V948.7M1810.6,948.7H1827.2" stroke="#94c3e6" stroke-width="4.8" stroke-opacity="0.27" fill="none"/>
<path d="M1988.7,776.5H2005.3M1997.0,776.5V806.5M1988.7,806.5H2005.3" stroke="#94c3e6" stroke-width="4.8" stroke-opacity="0.27" fill="none"/>
<path d="M1632.2,923.8H1648.8M1640.5,923.8V951.8M1632.2,951.8H1648.8" stroke="#7dc462" stroke-width="4.8" stroke-opacity="0.27" fill="none"/>
<path d="M1810.6,857.7H1827.2M1818.9,857.7V905.7M1810.6,905.7H1827.2" stroke="#7dc462" stroke-width="4.8" stroke-opacity="0.27" fill="none"/>
<path d="M1988.7,766.8H2005.3M1997.0,766.8V806.8M1988.7,806.8H2005.3" stroke="#7dc462" stroke-width="4.8" stroke-opacity="0.27" fill="none"/>
<polyline points="1640.5,900.4 1818.9,895.1 1997.0,663.0" fill="none" stroke="#5a5ea6" stroke-width="7.0" stroke-linejoin="round"/>
<polyline points="1640.5,894.2 1818.9,908.2 1997.0,802.4" fill="none" stroke="#e4572e" stroke-width="6.8" stroke-linejoin="round" stroke-dasharray="15.0 14.2"/>
<polyline points="1640.5,914.4 1818.9,926.9 1997.0,791.5" fill="none" stroke="#94c3e6" stroke-width="6.8" stroke-linejoin="round" stroke-dasharray="29.2 14.6"/>
<polyline points="1640.5,937.8 1818.9,881.7 1997.0,786.8" fill="none" stroke="#7dc462" stroke-width="6.8" stroke-linejoin="round" stroke-dasharray="29.2 29.2"/>
<circle cx="1640.5" cy="900.4" r="10.9" fill="#5a5ea6" fill-opacity="0.85"/>
<polygon points="1818.9,880.3 1831.7,902.5 1806.1,902.5" fill="#5a5ea6" fill-opacity="0.85"/>
<rect x="1985.9" y="651.9" width="22.3" height="22.3" fill="#5a5ea6" fill-opacity="0.85"/>
<circle cx="1640.5" cy="894.2" r="10.9" fill="#e4572e" fill-opacity="0.85"/>
<polygon points="1818.9,893.4 1831.7,915.6 1806.1,915.6" fill="#e4572e" fill-opacity="0.85"/>
<rect x="1985.9" y="791.3" width="22.3" height="22.3" fill="#e4572e" fill-opacity="0.85"/>
<circle cx="1640.5" cy="914.4" r="10.9" fill="#94c3e6" fill-opacity="0.85"/>
<polygon points="1818.9,912.1 1831.7,934.3 1806.1,934.3" fill="#94c3e6" fill-opacity="0.85"/>
<rect x="1985.9" y="780.4" width="22.3" height="22.3" fill="#94c3e6" fill-opacity="0.85"/>
<circle cx="1640.5" cy="937.8" r="10.9" fill="#7dc462" fill-opacity="0.85"/>
<polygon points="1818.9,866.9 1831.7,889.1 1806.1,889.1" fill="#7dc462" fill-opacity="0.85"/>
<rect x="1985.9" y="775.7" width="22.3" height="22.3" fill="#7dc462" fill-opacity="0.85"/>
<line x1="1532.5" y1="606.8" x2="2105.8" y2="606.8" stroke="#141414" stroke-width="2.9"/>
<line x1="1532.5" y1="969.2" x2="2105.8" y2="969.2" stroke="#141414" stroke-width="3.2"/>
<line x1="1534.0" y1="606.8" x2="1534.0" y2="969.2" stroke="#141414" stroke-width="3.0"/>
<line x1="2104.4" y1="606.8" x2="2104.4" y2="969.2" stroke="#141414" stroke-width="2.9"/>
<line x1="1640.5" y1="969.2" x2="1640.5" y2="979.8" stroke="#141414" stroke-width="3.2"/>
<line x1="1818.9" y1="969.2" x2="1818.9" y2="979.8" stroke="#141414" stroke-width="3.2"/>
<line x1="1997.0" y1="969.2" x2="1997.0" y2="979.8" stroke="#141414" stroke-width="3.2"/>
<line x1="1520.0" y1="729.0" x2="1534.0" y2="729.0" stroke="#141414" stroke-width="3.2"/>
<text x="1504.4" y="738.5" font-size="37.8" text-anchor="end" fill="#222">1</text>
<line x1="1520.0" y1="868.5" x2="1534.0" y2="868.5" stroke="#141414" stroke-width="3.2"/>
<text x="1509.0" y="881.5" font-size="37.8" text-anchor="end" fill="#222">0</text>
<text transform="translate(1534.5,588.5) scale(1.07,1)" font-size="40" fill="#111">nucleotide</text>
</g>
<g>
<path d="M233.8,1245.6H250.4M242.1,1245.6V1302.8M233.8,1302.8H250.4" stroke="#5a5ea6" stroke-width="4.8" stroke-opacity="0.27" fill="none"/>
<path d="M411.9,1217.5H428.5M420.2,1217.5V1256.5M411.9,1256.5H428.5" stroke="#5a5ea6" stroke-width="4.8" stroke-opacity="0.27" fill="none"/>
<path d="M590.2,1167.8H606.8M598.5,1167.8V1325.8M590.2,1325.8H606.8" stroke="#5a5ea6" stroke-width="4.8" stroke-opacity="0.27" fill="none"/>
<path d="M233.8,1190.5H250.4M242.1,1190.5V1310.5M233.8,1310.5H250.4" stroke="#e4572e" stroke-width="4.8" stroke-opacity="0.27" fill="none"/>
<path d="M411.9,1100.9H428.5M420.2,1100.9V1180.9M411.9,1180.9H428.5" stroke="#e4572e" stroke-width="4.8" stroke-opacity="0.27" fill="none"/>
<path d="M590.2,1292.6H606.8M598.5,1292.6V1412.6M590.2,1412.6H606.8" stroke="#e4572e" stroke-width="4.8" stroke-opacity="0.27" fill="none"/>
<path d="M233.8,1213.7H250.4M242.1,1213.7V1273.7M233.8,1273.7H250.4" stroke="#94c3e6" stroke-width="4.8" stroke-opacity="0.27" fill="none"/>
<path d="M411.9,1086.7H428.5M420.2,1086.7V1210.7M411.9,1210.7H428.5" stroke="#94c3e6" stroke-width="4.8" stroke-opacity="0.27" fill="none"/>
<path d="M590.2,1284.0H606.8M598.5,1284.0V1356.0M590.2,1356.0H606.8" stroke="#94c3e6" stroke-width="4.8" stroke-opacity="0.27" fill="none"/>
<path d="M233.8,1168.0H250.4M242.1,1168.0V1222.8M233.8,1222.8H250.4" stroke="#7dc462" stroke-width="4.8" stroke-opacity="0.27" fill="none"/>
<path d="M411.9,1100.0H428.5M420.2,1100.0V1210.0M411.9,1210.0H428.5" stroke="#7dc462" stroke-width="4.8" stroke-opacity="0.27" fill="none"/>
<path d="M590.2,1324.0H606.8M598.5,1324.0V1403.0M590.2,1403.0H606.8" stroke="#7dc462" stroke-width="4.8" stroke-opacity="0.27" fill="none"/>
<polyline points="242.1,1274.2 420.2,1237.0 598.5,1246.8" fill="none" stroke="#5a5ea6" stroke-width="7.0" stroke-linejoin="round"/>
<polyline points="242.1,1250.5 420.2,1140.9 598.5,1352.6" fill="none" stroke="#e4572e" stroke-width="6.8" stroke-linejoin="round" stroke-dasharray="15.0 14.2"/>
<polyline points="242.1,1243.7 420.2,1148.7 598.5,1320.0" fill="none" stroke="#94c3e6" stroke-width="6.8" stroke-linejoin="round" stroke-dasharray="29.2 14.6"/>
<polyline points="242.1,1195.4 420.2,1155.0 598.5,1363.5" fill="none" stroke="#7dc462" stroke-width="6.8" stroke-linejoin="round" stroke-dasharray="29.2 29.2"/>
<circle cx="242.1" cy="1274.2" r="10.9" fill="#5a5ea6" fill-opacity="0.85"/>
<polygon points="420.2,1222.2 433.0,1244.4 407.4,1244.4" fill="#5a5ea6" fill-opacity="0.85"/>
<rect x="587.4" y="1235.7" width="22.3" height="22.3" fill="#5a5ea6" fill-opacity="0.85"/>
<circle cx="242.1" cy="1250.5" r="10.9" fill="#e4572e" fill-opacity="0.85"/>
<polygon points="420.2,1126.1 433.0,1148.3 407.4,1148.3" fill="#e4572e" fill-opacity="0.85"/>
<rect x="587.4" y="1341.5" width="22.3" height="22.3" fill="#e4572e" fill-opacity="0.85"/>
<circle cx="242.1" cy="1243.7" r="10.9" fill="#94c3e6" fill-opacity="0.85"/>
<polygon points="420.2,1133.9 433.0,1156.1 407.4,1156.1" fill="#94c3e6" fill-opacity="0.85"/>
<rect x="587.4" y="1308.9" width="22.3" height="22.3" fill="#94c3e6" fill-opacity="0.85"/>
<circle cx="242.1" cy="1195.4" r="10.9" fill="#7dc462" fill-opacity="0.85"/>
<polygon points="420.2,1140.2 433.0,1162.4 407.4,1162.4" fill="#7dc462" fill-opacity="0.85"/>
<rect x="587.4" y="1352.4" width="22.3" height="22.3" fill="#7dc462" fill-opacity="0.85"/>
<line x1="133.6" y1="1070.3" x2="708.1" y2="1070.3" stroke="#141414" stroke-width="3.0"/>
<line x1="133.6" y1="1431.0" x2="708.1" y2="1431.0" stroke="#141414" stroke-width="3.2"/>
<line x1="135.6" y1="1070.3" x2="135.6" y2="1431.0" stroke="#141414" stroke-width="4.0"/>
<line x1="705.8" y1="1070.3" x2="705.8" y2="1431.0" stroke="#141414" stroke-width="4.6"/>
<line x1="242.1" y1="1431.0" x2="242.1" y2="1441.6" stroke="#141414" stroke-width="3.2"/>
<line x1="420.2" y1="1431.0" x2="420.2" y2="1441.6" stroke="#141414" stroke-width="3.2"/>
<line x1="598.5" y1="1431.0" x2="598.5" y2="1441.6" stroke="#141414" stroke-width="3.2"/>
<line x1="121.1" y1="1154.8" x2="135.6" y2="1154.8" stroke="#141414" stroke-width="3.2"/>
<text x="112.6" y="1172.8" font-size="37.8" text-anchor="end" fill="#222">0.4</text>
<line x1="121.1" y1="1249.0" x2="135.6" y2="1249.0" stroke="#141414" stroke-width="3.2"/>
<text x="112.6" y="1266.0" font-size="37.8" text-anchor="end" fill="#222">0.0</text>
<line x1="121.1" y1="1342.8" x2="135.6" y2="1342.8" stroke="#141414" stroke-width="3.2"/>
<text x="112.6" y="1359.3" font-size="37.8" text-anchor="end" fill="#222">-0.4</text>
<text transform="translate(135.0,1051.5) scale(1.0,1)" font-size="43.5" fill="#111">vitamin</text>
</g>
<g>
<path d="M934.7,1290.8H951.3M943.0,1290.8V1314.8M934.7,1314.8H951.3" stroke="#5a5ea6" stroke-width="4.8" stroke-opacity="0.27" fill="none"/>
<path d="M1112.8,1330.9H1129.4M1121.1,1330.9V1358.9M1112.8,1358.9H1129.4" stroke="#5a5ea6" stroke-width="4.8" stroke-opacity="0.27" fill="none"/>
<path d="M1291.8,1086.6H1308.4M1300.1,1086.6V1204.6M1291.8,1204.6H1308.4" stroke="#5a5ea6" stroke-width="4.8" stroke-opacity="0.27" fill="none"/>
<path d="M934.7,1236.9H951.3M943.0,1236.9V1318.9M934.7,1318.9H951.3" stroke="#e4572e" stroke-width="4.8" stroke-opacity="0.27" fill="none"/>
<path d="M1112.8,1275.4H1129.4M1121.1,1275.4V1349.0M1112.8,1349.0H1129.4" stroke="#e4572e" stroke-width="4.8" stroke-opacity="0.27" fill="none"/>
<path d="M1291.8,1284.5H1308.4M1300.1,1284.5V1388.5M1291.8,1388.5H1308.4" stroke="#e4572e" stroke-width="4.8" stroke-opacity="0.27" fill="none"/>
<path d="M934.7,1314.1H951.3M943.0,1314.1V1360.1M934.7,1360.1H951.3" stroke="#94c3e6" stroke-width="4.8" stroke-opacity="0.27" fill="none"/>
<path d="M1112.8,1349.0H1129.4M1121.1,1349.0V1409.0M1112.8,1409.0H1129.4" stroke="#94c3e6" stroke-width="4.8" stroke-opacity="0.27" fill="none"/>
<path d="M1291.8,1213.0H1308.4M1300.1,1213.0V1265.0M1291.8,1265.0H1308.4" stroke="#94c3e6" stroke-width="4.8" stroke-opacity="0.27" fill="none"/>
<path d="M934.7,1306.5H951.3M943.0,1306.5V1336.5M934.7,1336.5H951.3" stroke="#7dc462" stroke-width="4.8" stroke-opacity="0.27" fill="none"/>
<path d="M1112.8,1348.0H1129.4M1121.1,1348.0V1416.0M1112.8,1416.0H1129.4" stroke="#7dc462" stroke-width="4.8" stroke-opacity="0.27" fill="none"/>
<path d="M1291.8,1217.4H1308.4M1300.1,1217.4V1279.4M1291.8,1279.4H1308.4" stroke="#7dc462" stroke-width="4.8" stroke-opacity="0.27" fill="none"/>
<polyline points="943.0,1302.8 1121.1,1344.9 1300.1,1145.6" fill="none" stroke="#5a5ea6" stroke-width="7.0" stroke-linejoin="round"/>
<polyline points="943.0,1277.9 1121.1,1312.2 1300.1,1336.5" fill="none" stroke="#e4572e" stroke-width="6.8" stroke-linejoin="round" stroke-dasharray="15.0 14.2"/>
<polyline points="943.0,1337.1 1121.1,1379.0 1300.1,1239.0" fill="none" stroke="#94c3e6" stroke-width="6.8" stroke-linejoin="round" stroke-dasharray="29.2 14.6"/>
<polyline points="943.0,1321.5 1121.1,1382.0 1300.1,1248.4" fill="none" stroke="#7dc462" stroke-width="6.8" stroke-linejoin="round" stroke-dasharray="29.2 29.2"/>
<circle cx="943.0" cy="1302.8" r="10.9" fill="#5a5ea6" fill-opacity="0.85"/>
<polygon points="1121.1,1330.1 1133.9,1352.3 1108.3,1352.3" fill="#5a5ea6" fill-opacity="0.85"/>
<rect x="1289.0" y="1134.5" width="22.3" height="22.3" fill="#5a5ea6" fill-opacity="0.85"/>
<circle cx="943.0" cy="1277.9" r="10.9" fill="#e4572e" fill-opacity="0.85"/>
<polygon points="1121.1,1297.4 1133.9,1319.6 1108.3,1319.6" fill="#e4572e" fill-opacity="0.85"/>
<rect x="1289.0" y="1325.4" width="22.3" height="22.3" fill="#e4572e" fill-opacity="0.85"/>
<circle cx="943.0" cy="1337.1" r="10.9" fill="#94c3e6" fill-opacity="0.85"/>
<polygon points="1121.1,1364.2 1133.9,1386.4 1108.3,1386.4" fill="#94c3e6" fill-opacity="0.85"/>
<rect x="1289.0" y="1227.9" width="22.3" height="22.3" fill="#94c3e6" fill-opacity="0.85"/>
<circle cx="943.0" cy="1321.5" r="10.9" fill="#7dc462" fill-opacity="0.85"/>
<polygon points="1121.1,1367.2 1133.9,1389.4 1108.3,1389.4" fill="#7dc462" fill-opacity="0.85"/>
<rect x="1289.0" y="1237.3" width="22.3" height="22.3" fill="#7dc462" fill-opacity="0.85"/>
<line x1="835.3" y1="1070.3" x2="1408.4" y2="1070.3" stroke="#141414" stroke-width="2.9"/>
<line x1="835.3" y1="1431.0" x2="1408.4" y2="1431.0" stroke="#141414" stroke-width="3.2"/>
<line x1="836.8" y1="1070.3" x2="836.8" y2="1431.0" stroke="#141414" stroke-width="3.0"/>
<line x1="1406.9" y1="1070.3" x2="1406.9" y2="1431.0" stroke="#141414" stroke-width="2.9"/>
<line x1="943.0" y1="1431.0" x2="943.0" y2="1444.1" stroke="#141414" stroke-width="3.2"/>
<line x1="1121.1" y1="1431.0" x2="1121.1" y2="1444.1" stroke="#141414" stroke-width="3.2"/>
<line x1="1300.1" y1="1431.0" x2="1300.1" y2="1444.1" stroke="#141414" stroke-width="3.2"/>
<line x1="822.8" y1="1110.9" x2="836.8" y2="1110.9" stroke="#141414" stroke-width="3.2"/>
<text x="809.5" y="1126.2" font-size="37.8" text-anchor="end" fill="#222">1.0</text>
<line x1="822.8" y1="1210.6" x2="836.8" y2="1210.6" stroke="#141414" stroke-width="3.2"/>
<text x="809.5" y="1227.6" font-size="37.8" text-anchor="end" fill="#222">0.5</text>
<line x1="822.8" y1="1309.6" x2="836.8" y2="1309.6" stroke="#141414" stroke-width="3.2"/>
<text x="809.5" y="1324.9" font-size="37.8" text-anchor="end" fill="#222">0.0</text>
<line x1="822.8" y1="1408.5" x2="836.8" y2="1408.5" stroke="#141414" stroke-width="3.2"/>
<text x="809.5" y="1426.8" font-size="37.8" text-anchor="end" fill="#222">-0.5</text>
<text transform="translate(836.0,1051.7) scale(1.0,1)" font-size="43.5" fill="#111">SCFA catabolic process</text>
</g>
<g>
<path d="M1633.2,1297.3H1649.8M1641.5,1297.3V1333.3M1633.2,1333.3H1649.8" stroke="#5a5ea6" stroke-width="4.8" stroke-opacity="0.27" fill="none"/>
<path d="M1811.9,1294.2H1828.5M1820.2,1294.2V1327.0M1811.9,1327.0H1828.5" stroke="#5a5ea6" stroke-width="4.8" stroke-opacity="0.27" fill="none"/>
<path d="M1990.2,1083.9H2006.8M1998.5,1083.9V1217.9M1990.2,1217.9H2006.8" stroke="#5a5ea6" stroke-width="4.8" stroke-opacity="0.27" fill="none"/>
<path d="M1633.2,1335.4H1649.8M1641.5,1335.4V1413.4M1633.2,1413.4H1649.8" stroke="#e4572e" stroke-width="4.8" stroke-opacity="0.27" fill="none"/>
<path d="M1811.9,1199.2H1828.5M1820.2,1199.2V1263.2M1811.9,1263.2H1828.5" stroke="#e4572e" stroke-width="4.8" stroke-opacity="0.27" fill="none"/>
<path d="M1990.2,1220.0H2006.8M1998.5,1220.0V1314.0M1990.2,1314.0H2006.8" stroke="#e4572e" stroke-width="4.8" stroke-opacity="0.27" fill="none"/>
<path d="M1633.2,1241.1H1649.8M1641.5,1241.1V1299.1M1633.2,1299.1H1649.8" stroke="#94c3e6" stroke-width="4.8" stroke-opacity="0.27" fill="none"/>
<path d="M1811.9,1291.7H1828.5M1820.2,1291.7V1307.7M1811.9,1307.7H1828.5" stroke="#94c3e6" stroke-width="4.8" stroke-opacity="0.27" fill="none"/>
<path d="M1990.2,1287.0H2006.8M1998.5,1287.0V1331.0M1990.2,1331.0H2006.8" stroke="#94c3e6" stroke-width="4.8" stroke-opacity="0.27" fill="none"/>
<path d="M1633.2,1253.3H1649.8M1641.5,1253.3V1293.3M1633.2,1293.3H1649.8" stroke="#7dc462" stroke-width="4.8" stroke-opacity="0.27" fill="none"/>
<path d="M1811.9,1257.5H1828.5M1820.2,1257.5V1273.5M1811.9,1273.5H1828.5" stroke="#7dc462" stroke-width="4.8" stroke-opacity="0.27" fill="none"/>
<path d="M1990.2,1297.2H2006.8M1998.5,1297.2V1358.2M1990.2,1358.2H2006.8" stroke="#7dc462" stroke-width="4.8" stroke-opacity="0.27" fill="none"/>
<polyline points="1641.5,1315.3 1820.2,1310.6 1998.5,1150.9" fill="none" stroke="#5a5ea6" stroke-width="7.0" stroke-linejoin="round"/>
<polyline points="1641.5,1374.4 1820.2,1231.2 1998.5,1267.0" fill="none" stroke="#e4572e" stroke-width="6.8" stroke-linejoin="round" stroke-dasharray="15.0 14.2"/>
<polyline points="1641.5,1270.1 1820.2,1299.7 1998.5,1309.0" fill="none" stroke="#94c3e6" stroke-width="6.8" stroke-linejoin="round" stroke-dasharray="29.2 14.6"/>
<polyline points="1641.5,1273.3 1820.2,1265.5 1998.5,1327.7" fill="none" stroke="#7dc462" stroke-width="6.8" stroke-linejoin="round" stroke-dasharray="29.2 29.2"/>
<circle cx="1641.5" cy="1315.3" r="10.9" fill="#5a5ea6" fill-opacity="0.85"/>
<polygon points="1820.2,1295.8 1833.0,1318.0 1807.4,1318.0" fill="#5a5ea6" fill-opacity="0.85"/>
<rect x="1987.4" y="1139.8" width="22.3" height="22.3" fill="#5a5ea6" fill-opacity="0.85"/>
<circle cx="1641.5" cy="1374.4" r="10.9" fill="#e4572e" fill-opacity="0.85"/>
<polygon points="1820.2,1216.4 1833.0,1238.6 1807.4,1238.6" fill="#e4572e" fill-opacity="0.85"/>
<rect x="1987.4" y="1255.9" width="22.3" height="22.3" fill="#e4572e" fill-opacity="0.85"/>
<circle cx="1641.5" cy="1270.1" r="10.9" fill="#94c3e6" fill-opacity="0.85"/>
<polygon points="1820.2,1284.9 1833.0,1307.1 1807.4,1307.1" fill="#94c3e6" fill-opacity="0.85"/>
<rect x="1987.4" y="1297.9" width="22.3" height="22.3" fill="#94c3e6" fill-opacity="0.85"/>
<circle cx="1641.5" cy="1273.3" r="10.9" fill="#7dc462" fill-opacity="0.85"/>
<polygon points="1820.2,1250.7 1833.0,1272.9 1807.4,1272.9" fill="#7dc462" fill-opacity="0.85"/>
<rect x="1987.4" y="1316.6" width="22.3" height="22.3" fill="#7dc462" fill-opacity="0.85"/>
<line x1="1533.3" y1="1070.3" x2="2108.2" y2="1070.3" stroke="#141414" stroke-width="3.0"/>
<line x1="1533.3" y1="1431.0" x2="2108.2" y2="1431.0" stroke="#141414" stroke-width="4.4"/>
<line x1="1535.6" y1="1070.3" x2="1535.6" y2="1431.0" stroke="#141414" stroke-width="4.6"/>
<line x1="2106.9" y1="1070.3" x2="2106.9" y2="1431.0" stroke="#141414" stroke-width="2.6"/>
<line x1="1641.5" y1="1431.0" x2="1641.5" y2="1443.7" stroke="#141414" stroke-width="3.2"/>
<line x1="1820.2" y1="1431.0" x2="1820.2" y2="1443.7" stroke="#141414" stroke-width="3.2"/>
<line x1="1998.5" y1="1431.0" x2="1998.5" y2="1443.7" stroke="#141414" stroke-width="3.2"/>
<line x1="1520.8" y1="1080.0" x2="1535.6" y2="1080.0" stroke="#141414" stroke-width="3.2"/>
<text x="1511.8" y="1095.3" font-size="37.8" text-anchor="end" fill="#222">1.0</text>
<line x1="1520.8" y1="1185.5" x2="1535.6" y2="1185.5" stroke="#141414" stroke-width="3.2"/>
<text x="1511.8" y="1199.7" font-size="37.8" text-anchor="end" fill="#222">0.5</text>
<line x1="1520.8" y1="1291.4" x2="1535.6" y2="1291.4" stroke="#141414" stroke-width="3.2"/>
<text x="1511.8" y="1307.9" font-size="37.8" text-anchor="end" fill="#222">0.0</text>
<line x1="1520.8" y1="1397.3" x2="1535.6" y2="1397.3" stroke="#141414" stroke-width="3.2"/>
<text x="1511.8" y="1412.6" font-size="37.8" text-anchor="end" fill="#222">-0.5</text>
<text transform="translate(1537.0,1051.5) scale(1.0,1)" font-size="43.5" fill="#111">water</text>
</g>
<text x="2153.6" y="614.3" font-size="38.8" text-anchor="start" fill="#1a1a1a">segments</text>
<circle cx="2170.6" cy="670.5" r="17.5" fill="#3a3a3a"/>
<text x="2209.7" y="677.7" font-size="38.8" text-anchor="start" fill="#1a1a1a">duodenum</text>
<polygon points="2170.6,719.0 2188.4,751.2 2152.8,751.2" fill="#3a3a3a"/>
<text x="2214.0" y="747.2" font-size="38.8" text-anchor="start" fill="#1a1a1a">jejum / ileum</text>
<rect x="2152.9" y="788.9" width="35.2" height="37.3" fill="#3a3a3a"/>
<text x="2214.0" y="812.4" font-size="38.8" text-anchor="start" fill="#1a1a1a">colon</text>
<text x="2156.9" y="985.6" font-size="38.8" text-anchor="start" fill="#1a1a1a">species</text>
<circle cx="2172.4" cy="1045.3" r="17.4" fill="#e4572e" fill-opacity="0.78"/>
<text x="2215.2" y="1050.8" font-size="38.8" text-anchor="start" fill="#1a1a1a">human</text>
<circle cx="2172.4" cy="1102.2" r="17.4" fill="#5a5ea6" fill-opacity="0.78"/>
<text x="2215.2" y="1107.6" font-size="38.8" text-anchor="start" fill="#1a1a1a">guineapig</text>
<circle cx="2172.4" cy="1161.2" r="17.4" fill="#94c3e6" fill-opacity="0.78"/>
<text x="2215.2" y="1165.6" font-size="38.8" text-anchor="start" fill="#1a1a1a">mouse</text>
<circle cx="2172.4" cy="1218.4" r="17.4" fill="#7dc462" fill-opacity="0.78"/>
<text x="2215.2" y="1222.8" font-size="38.8" text-anchor="start" fill="#1a1a1a">rat</text>
<rect x="138.8" y="1530.5" width="203.7" height="33.65" fill="#f4f5aa" stroke="#8e9596" stroke-width="2.7"/>
<rect x="342.5" y="1530.5" width="203.7" height="33.65" fill="#c5e1e9" stroke="#8e9596" stroke-width="2.7"/>
<rect x="546.2" y="1530.5" width="205.5" height="33.65" fill="#e76a4b" stroke="#8e9596" stroke-width="2.7"/>
<text x="773.4" y="1560.5" font-size="34.5" text-anchor="start" fill="#1a1a1a">ACADS_guineapig</text>
<rect x="138.8" y="1564.2" width="203.7" height="33.65" fill="#f4d37f" stroke="#8e9596" stroke-width="2.7"/>
<rect x="342.5" y="1564.2" width="203.7" height="33.65" fill="#f2f4b1" stroke="#8e9596" stroke-width="2.7"/>
<rect x="546.2" y="1564.2" width="205.5" height="33.65" fill="#8cb9d7" stroke="#8e9596" stroke-width="2.7"/>
<text x="773.4" y="1594.2" font-size="34.5" text-anchor="start" fill="#1a1a1a">ACADS_human</text>
<rect x="138.8" y="1597.8" width="203.7" height="33.65" fill="#b6d6e4" stroke="#8e9596" stroke-width="2.7"/>
<rect x="342.5" y="1597.8" width="203.7" height="33.65" fill="#bedce7" stroke="#8e9596" stroke-width="2.7"/>
<rect x="546.2" y="1597.8" width="205.5" height="33.65" fill="#f4c678" stroke="#8e9596" stroke-width="2.7"/>
<text x="773.4" y="1627.8" font-size="34.5" text-anchor="start" fill="#1a1a1a">ACADS_mouse</text>
<rect x="138.8" y="1631.5" width="203.7" height="33.65" fill="#bad9e6" stroke="#8e9596" stroke-width="2.7"/>
<rect x="342.5" y="1631.5" width="203.7" height="33.65" fill="#a7cce0" stroke="#8e9596" stroke-width="2.7"/>
<rect x="546.2" y="1631.5" width="205.5" height="33.65" fill="#f4c075" stroke="#8e9596" stroke-width="2.7"/>
<text x="773.4" y="1661.5" font-size="34.5" text-anchor="start" fill="#1a1a1a">ACADS_rat</text>
<line x1="343.4" y1="1530.5" x2="343.4" y2="1665.1" stroke="#8e9596" stroke-width="5.0"/>
<rect x="138.8" y="1675.3" width="203.7" height="33.65" fill="#f4dc86" stroke="#8e9596" stroke-width="2.7"/>
<rect x="342.5" y="1675.3" width="203.7" height="33.65" fill="#e3f2db" stroke="#8e9596" stroke-width="2.7"/>
<rect x="546.2" y="1675.3" width="205.5" height="33.65" fill="#bad9e6" stroke="#8e9596" stroke-width="2.7"/>
<text x="773.4" y="1705.3" font-size="34.5" text-anchor="start" fill="#1a1a1a">AQP11_guineapig</text>
<rect x="138.8" y="1709.0" width="203.7" height="33.65" fill="#f4dc86" stroke="#8e9596" stroke-width="2.7"/>
<rect x="342.5" y="1709.0" width="203.7" height="33.65" fill="#f4ed9e" stroke="#8e9596" stroke-width="2.7"/>
<rect x="546.2" y="1709.0" width="205.5" height="33.65" fill="#89b6d5" stroke="#8e9596" stroke-width="2.7"/>
<text x="773.4" y="1739.0" font-size="34.5" text-anchor="start" fill="#1a1a1a">AQP11_human</text>
<rect x="138.8" y="1742.6" width="203.7" height="33.65" fill="#f4d982" stroke="#8e9596" stroke-width="2.7"/>
<rect x="342.5" y="1742.6" width="203.7" height="33.65" fill="#f4f5aa" stroke="#8e9596" stroke-width="2.7"/>
<rect x="546.2" y="1742.6" width="205.5" height="33.65" fill="#98c2db" stroke="#8e9596" stroke-width="2.7"/>
<text x="773.4" y="1772.6" font-size="34.5" text-anchor="start" fill="#1a1a1a">AQP11_mouse</text>
<rect x="138.8" y="1776.2" width="203.7" height="33.65" fill="#f4f2a6" stroke="#8e9596" stroke-width="2.7"/>
<rect x="342.5" y="1776.2" width="203.7" height="33.65" fill="#f4d37f" stroke="#8e9596" stroke-width="2.7"/>
<rect x="546.2" y="1776.2" width="205.5" height="33.65" fill="#90bdd9" stroke="#8e9596" stroke-width="2.7"/>
<text x="773.4" y="1806.3" font-size="34.5" text-anchor="start" fill="#1a1a1a">AQP11_rat</text>
<line x1="343.4" y1="1675.3" x2="343.4" y2="1809.9" stroke="#8e9596" stroke-width="5.0"/>
<rect x="138.8" y="1820.1" width="203.7" height="33.65" fill="#e1f1e2" stroke="#8e9596" stroke-width="2.7"/>
<rect x="342.5" y="1820.1" width="203.7" height="33.65" fill="#e1f1e2" stroke="#8e9596" stroke-width="2.7"/>
<rect x="546.2" y="1820.1" width="205.5" height="33.65" fill="#dc523f" stroke="#8e9596" stroke-width="2.7"/>
<text x="773.4" y="1850.1" font-size="34.5" text-anchor="start" fill="#1a1a1a">AQP8_guineapig</text>
<rect x="138.8" y="1853.8" width="203.7" height="33.65" fill="#c1dee8" stroke="#8e9596" stroke-width="2.7"/>
<rect x="342.5" y="1853.8" width="203.7" height="33.65" fill="#c1dee8" stroke="#8e9596" stroke-width="2.7"/>
<rect x="546.2" y="1853.8" width="205.5" height="33.65" fill="#f4c075" stroke="#8e9596" stroke-width="2.7"/>
<text x="773.4" y="1883.8" font-size="34.5" text-anchor="start" fill="#1a1a1a">AQP8_human</text>
<rect x="138.8" y="1887.4" width="203.7" height="33.65" fill="#bad9e6" stroke="#8e9596" stroke-width="2.7"/>
<rect x="342.5" y="1887.4" width="203.7" height="33.65" fill="#bedce7" stroke="#8e9596" stroke-width="2.7"/>
<rect x="546.2" y="1887.4" width="205.5" height="33.65" fill="#f4d07d" stroke="#8e9596" stroke-width="2.7"/>
<text x="773.4" y="1917.4" font-size="34.5" text-anchor="start" fill="#1a1a1a">AQP8_mouse</text>
<rect x="138.8" y="1921.0" width="203.7" height="33.65" fill="#c5e1e9" stroke="#8e9596" stroke-width="2.7"/>
<rect x="342.5" y="1921.0" width="203.7" height="33.65" fill="#e8f2cd" stroke="#8e9596" stroke-width="2.7"/>
<rect x="546.2" y="1921.0" width="205.5" height="33.65" fill="#f4e796" stroke="#8e9596" stroke-width="2.7"/>
<text x="773.4" y="1951.1" font-size="34.5" text-anchor="start" fill="#1a1a1a">AQP8_rat</text>
<line x1="343.4" y1="1820.1" x2="343.4" y2="1954.7" stroke="#8e9596" stroke-width="5.0"/>
<rect x="138.8" y="1965.1" width="203.7" height="33.65" fill="#f4dc86" stroke="#8e9596" stroke-width="2.7"/>
<rect x="342.5" y="1965.1" width="203.7" height="33.65" fill="#b2d4e3" stroke="#8e9596" stroke-width="2.7"/>
<rect x="546.2" y="1965.1" width="205.5" height="33.65" fill="#ee7a52" stroke="#8e9596" stroke-width="2.7"/>
<text x="773.4" y="1995.1" font-size="34.5" text-anchor="start" fill="#1a1a1a">CD320_guineapig</text>
<rect x="138.8" y="1998.8" width="203.7" height="33.65" fill="#89b6d5" stroke="#8e9596" stroke-width="2.7"/>
<rect x="342.5" y="1998.8" width="203.7" height="33.65" fill="#f4e18e" stroke="#8e9596" stroke-width="2.7"/>
<rect x="546.2" y="1998.8" width="205.5" height="33.65" fill="#f4ed9e" stroke="#8e9596" stroke-width="2.7"/>
<text x="773.4" y="2028.8" font-size="34.5" text-anchor="start" fill="#1a1a1a">CD320_human</text>
<rect x="138.8" y="2032.4" width="203.7" height="33.65" fill="#d1e8ed" stroke="#8e9596" stroke-width="2.7"/>
<rect x="342.5" y="2032.4" width="203.7" height="33.65" fill="#90bdd9" stroke="#8e9596" stroke-width="2.7"/>
<rect x="546.2" y="2032.4" width="205.5" height="33.65" fill="#f4c678" stroke="#8e9596" stroke-width="2.7"/>
<text x="773.4" y="2062.4" font-size="34.5" text-anchor="start" fill="#1a1a1a">CD320_mouse</text>
<rect x="138.8" y="2066.0" width="203.7" height="33.65" fill="#aed1e2" stroke="#8e9596" stroke-width="2.7"/>
<rect x="342.5" y="2066.0" width="203.7" height="33.65" fill="#bad9e6" stroke="#8e9596" stroke-width="2.7"/>
<rect x="546.2" y="2066.0" width="205.5" height="33.65" fill="#f4c075" stroke="#8e9596" stroke-width="2.7"/>
<text x="773.4" y="2096.1" font-size="34.5" text-anchor="start" fill="#1a1a1a">CD320_rat</text>
<line x1="343.4" y1="1965.1" x2="343.4" y2="2099.7" stroke="#8e9596" stroke-width="5.0"/>
<rect x="138.8" y="2110.0" width="203.7" height="33.65" fill="#f4f5aa" stroke="#8e9596" stroke-width="2.7"/>
<rect x="342.5" y="2110.0" width="203.7" height="33.65" fill="#eff4b8" stroke="#8e9596" stroke-width="2.7"/>
<rect x="546.2" y="2110.0" width="205.5" height="33.65" fill="#a3cadf" stroke="#8e9596" stroke-width="2.7"/>
<text x="773.4" y="2140.0" font-size="34.5" text-anchor="start" fill="#1a1a1a">FABP2_guineapig</text>
<rect x="138.8" y="2143.7" width="203.7" height="33.65" fill="#edf4bf" stroke="#8e9596" stroke-width="2.7"/>
<rect x="342.5" y="2143.7" width="203.7" height="33.65" fill="#f4d07d" stroke="#8e9596" stroke-width="2.7"/>
<rect x="546.2" y="2143.7" width="205.5" height="33.65" fill="#94c0da" stroke="#8e9596" stroke-width="2.7"/>
<text x="773.4" y="2173.7" font-size="34.5" text-anchor="start" fill="#1a1a1a">FABP2_human</text>
<rect x="138.8" y="2177.3" width="203.7" height="33.65" fill="#f4f4a8" stroke="#8e9596" stroke-width="2.7"/>
<rect x="342.5" y="2177.3" width="203.7" height="33.65" fill="#f4df8a" stroke="#8e9596" stroke-width="2.7"/>
<rect x="546.2" y="2177.3" width="205.5" height="33.65" fill="#a7cce0" stroke="#8e9596" stroke-width="2.7"/>
<text x="773.4" y="2207.3" font-size="34.5" text-anchor="start" fill="#1a1a1a">FABP2_mouse</text>
<rect x="138.8" y="2210.9" width="203.7" height="33.65" fill="#e8f2cd" stroke="#8e9596" stroke-width="2.7"/>
<rect x="342.5" y="2210.9" width="203.7" height="33.65" fill="#f59660" stroke="#8e9596" stroke-width="2.7"/>
<rect x="546.2" y="2210.9" width="205.5" height="33.65" fill="#a7cce0" stroke="#8e9596" stroke-width="2.7"/>
<text x="773.4" y="2241.0" font-size="34.5" text-anchor="start" fill="#1a1a1a">FABP2_rat</text>
<line x1="343.4" y1="2110.0" x2="343.4" y2="2244.6" stroke="#8e9596" stroke-width="5.0"/>
<rect x="138.8" y="2255.4" width="203.7" height="33.65" fill="#90bdd9" stroke="#8e9596" stroke-width="2.7"/>
<rect x="342.5" y="2255.4" width="203.7" height="33.65" fill="#f4e08c" stroke="#8e9596" stroke-width="2.7"/>
<rect x="546.2" y="2255.4" width="205.5" height="33.65" fill="#90bdd9" stroke="#8e9596" stroke-width="2.7"/>
<text x="773.4" y="2285.4" font-size="34.5" text-anchor="start" fill="#1a1a1a">FABP6_guineapig</text>
<rect x="138.8" y="2289.1" width="203.7" height="33.65" fill="#bedce7" stroke="#8e9596" stroke-width="2.7"/>
<rect x="342.5" y="2289.1" width="203.7" height="33.65" fill="#f4c377" stroke="#8e9596" stroke-width="2.7"/>
<rect x="546.2" y="2289.1" width="205.5" height="33.65" fill="#c1dee8" stroke="#8e9596" stroke-width="2.7"/>
<text x="773.4" y="2319.1" font-size="34.5" text-anchor="start" fill="#1a1a1a">FABP6_human</text>
<rect x="138.8" y="2322.7" width="203.7" height="33.65" fill="#dcf0f0" stroke="#8e9596" stroke-width="2.7"/>
<rect x="342.5" y="2322.7" width="203.7" height="33.65" fill="#f4cc7c" stroke="#8e9596" stroke-width="2.7"/>
<rect x="546.2" y="2322.7" width="205.5" height="33.65" fill="#ddf0ec" stroke="#8e9596" stroke-width="2.7"/>
<text x="773.4" y="2352.7" font-size="34.5" text-anchor="start" fill="#1a1a1a">FABP6_mouse</text>
<rect x="138.8" y="2356.3" width="203.7" height="33.65" fill="#dcf0f0" stroke="#8e9596" stroke-width="2.7"/>
<rect x="342.5" y="2356.3" width="203.7" height="33.65" fill="#f4cc7c" stroke="#8e9596" stroke-width="2.7"/>
<rect x="546.2" y="2356.3" width="205.5" height="33.65" fill="#ddf0ec" stroke="#8e9596" stroke-width="2.7"/>
<text x="773.4" y="2386.4" font-size="34.5" text-anchor="start" fill="#1a1a1a">FABP6_rat</text>
<line x1="343.4" y1="2255.4" x2="343.4" y2="2390.0" stroke="#8e9596" stroke-width="5.0"/>
<text x="236.3" y="2432.7" font-size="38" text-anchor="middle" fill="#1a1a1a">duo</text>
<text x="449.3" y="2432.7" font-size="38" text-anchor="middle" fill="#1a1a1a">jej / ile</text>
<text x="647.0" y="2432.7" font-size="38" text-anchor="middle" fill="#1a1a1a">col</text>
<rect x="1254.2" y="1527.7" width="207.6" height="34.12" fill="#a3cadf" stroke="#8e9596" stroke-width="2.7"/>
<rect x="1461.8" y="1527.7" width="206.2" height="34.12" fill="#f4f4a8" stroke="#8e9596" stroke-width="2.7"/>
<rect x="1668.0" y="1527.7" width="206.8" height="34.12" fill="#f4f5aa" stroke="#8e9596" stroke-width="2.7"/>
<text x="1898.3" y="1558.0" font-size="34.5" text-anchor="start" fill="#1a1a1a">PCK1_guineapig</text>
<rect x="1254.2" y="1561.8" width="207.6" height="34.12" fill="#f2f4b1" stroke="#8e9596" stroke-width="2.7"/>
<rect x="1461.8" y="1561.8" width="206.2" height="34.12" fill="#f4d982" stroke="#8e9596" stroke-width="2.7"/>
<rect x="1668.0" y="1561.8" width="206.8" height="34.12" fill="#90bdd9" stroke="#8e9596" stroke-width="2.7"/>
<text x="1898.3" y="1592.1" font-size="34.5" text-anchor="start" fill="#1a1a1a">PCK1_human</text>
<rect x="1254.2" y="1596.0" width="207.6" height="34.12" fill="#9fc7de" stroke="#8e9596" stroke-width="2.7"/>
<rect x="1461.8" y="1596.0" width="206.2" height="34.12" fill="#e1f1e2" stroke="#8e9596" stroke-width="2.7"/>
<rect x="1668.0" y="1596.0" width="206.8" height="34.12" fill="#f4d37f" stroke="#8e9596" stroke-width="2.7"/>
<text x="1898.3" y="1626.2" font-size="34.5" text-anchor="start" fill="#1a1a1a">PCK1_mouse</text>
<rect x="1254.2" y="1630.1" width="207.6" height="34.12" fill="#aed1e2" stroke="#8e9596" stroke-width="2.7"/>
<rect x="1461.8" y="1630.1" width="206.2" height="34.12" fill="#ddf0ec" stroke="#8e9596" stroke-width="2.7"/>
<rect x="1668.0" y="1630.1" width="206.8" height="34.12" fill="#f4d680" stroke="#8e9596" stroke-width="2.7"/>
<text x="1898.3" y="1660.3" font-size="34.5" text-anchor="start" fill="#1a1a1a">PCK1_rat</text>
<line x1="1668.2" y1="1527.7" x2="1668.2" y2="1664.2" stroke="#8e9596" stroke-width="5.0"/>
<rect x="1254.2" y="1674.7" width="207.6" height="34.12" fill="#f2f4b1" stroke="#8e9596" stroke-width="2.7"/>
<rect x="1461.8" y="1674.7" width="206.2" height="34.12" fill="#dcf0f0" stroke="#8e9596" stroke-width="2.7"/>
<rect x="1668.0" y="1674.7" width="206.8" height="34.12" fill="#ee7a52" stroke="#8e9596" stroke-width="2.7"/>
<text x="1898.3" y="1705.0" font-size="34.5" text-anchor="start" fill="#1a1a1a">PCK2_guineapig</text>
<rect x="1254.2" y="1708.8" width="207.6" height="34.12" fill="#f4d680" stroke="#8e9596" stroke-width="2.7"/>
<rect x="1461.8" y="1708.8" width="206.2" height="34.12" fill="#f2f4b1" stroke="#8e9596" stroke-width="2.7"/>
<rect x="1668.0" y="1708.8" width="206.8" height="34.12" fill="#90bdd9" stroke="#8e9596" stroke-width="2.7"/>
<text x="1898.3" y="1739.1" font-size="34.5" text-anchor="start" fill="#1a1a1a">PCK2_human</text>
<rect x="1254.2" y="1743.0" width="207.6" height="34.12" fill="#dcf0f0" stroke="#8e9596" stroke-width="2.7"/>
<rect x="1461.8" y="1743.0" width="206.2" height="34.12" fill="#a3cadf" stroke="#8e9596" stroke-width="2.7"/>
<rect x="1668.0" y="1743.0" width="206.8" height="34.12" fill="#f4d37f" stroke="#8e9596" stroke-width="2.7"/>
<text x="1898.3" y="1773.2" font-size="34.5" text-anchor="start" fill="#1a1a1a">PCK2_mouse</text>
<rect x="1254.2" y="1777.1" width="207.6" height="34.12" fill="#b6d6e4" stroke="#8e9596" stroke-width="2.7"/>
<rect x="1461.8" y="1777.1" width="206.2" height="34.12" fill="#bedce7" stroke="#8e9596" stroke-width="2.7"/>
<rect x="1668.0" y="1777.1" width="206.8" height="34.12" fill="#f4cc7c" stroke="#8e9596" stroke-width="2.7"/>
<text x="1898.3" y="1807.3" font-size="34.5" text-anchor="start" fill="#1a1a1a">PCK2_rat</text>
<line x1="1668.2" y1="1674.7" x2="1668.2" y2="1811.2" stroke="#8e9596" stroke-width="5.0"/>
<rect x="1254.2" y="1821.8" width="207.6" height="34.12" fill="#e1f1e2" stroke="#8e9596" stroke-width="2.7"/>
<rect x="1461.8" y="1821.8" width="206.2" height="34.12" fill="#ddf0ec" stroke="#8e9596" stroke-width="2.7"/>
<rect x="1668.0" y="1821.8" width="206.8" height="34.12" fill="#d7463a" stroke="#8e9596" stroke-width="2.7"/>
<text x="1898.3" y="1852.1" font-size="34.5" text-anchor="start" fill="#1a1a1a">SLC17A9_guineapig</text>
<rect x="1254.2" y="1855.9" width="207.6" height="34.12" fill="#f4d07d" stroke="#8e9596" stroke-width="2.7"/>
<rect x="1461.8" y="1855.9" width="206.2" height="34.12" fill="#e8f2cd" stroke="#8e9596" stroke-width="2.7"/>
<rect x="1668.0" y="1855.9" width="206.8" height="34.12" fill="#98c2db" stroke="#8e9596" stroke-width="2.7"/>
<text x="1898.3" y="1886.2" font-size="34.5" text-anchor="start" fill="#1a1a1a">SLC17A9_human</text>
<rect x="1254.2" y="1890.0" width="207.6" height="34.12" fill="#bad9e6" stroke="#8e9596" stroke-width="2.7"/>
<rect x="1461.8" y="1890.0" width="206.2" height="34.12" fill="#b6d6e4" stroke="#8e9596" stroke-width="2.7"/>
<rect x="1668.0" y="1890.0" width="206.8" height="34.12" fill="#f4cc7c" stroke="#8e9596" stroke-width="2.7"/>
<text x="1898.3" y="1920.3" font-size="34.5" text-anchor="start" fill="#1a1a1a">SLC17A9_mouse</text>
<rect x="1254.2" y="1924.2" width="207.6" height="34.12" fill="#bad9e6" stroke="#8e9596" stroke-width="2.7"/>
<rect x="1461.8" y="1924.2" width="206.2" height="34.12" fill="#bad9e6" stroke="#8e9596" stroke-width="2.7"/>
<rect x="1668.0" y="1924.2" width="206.8" height="34.12" fill="#f4cc7c" stroke="#8e9596" stroke-width="2.7"/>
<text x="1898.3" y="1954.4" font-size="34.5" text-anchor="start" fill="#1a1a1a">SLC17A9_rat</text>
<line x1="1668.2" y1="1821.8" x2="1668.2" y2="1958.3" stroke="#8e9596" stroke-width="5.0"/>
<rect x="1254.2" y="1969.5" width="207.6" height="34.12" fill="#def0e9" stroke="#8e9596" stroke-width="2.7"/>
<rect x="1461.8" y="1969.5" width="206.2" height="34.12" fill="#f4f4a8" stroke="#8e9596" stroke-width="2.7"/>
<rect x="1668.0" y="1969.5" width="206.8" height="34.12" fill="#90bdd9" stroke="#8e9596" stroke-width="2.7"/>
<text x="1898.3" y="1999.8" font-size="34.5" text-anchor="start" fill="#1a1a1a">SLC2A2_guineapig</text>
<rect x="1254.2" y="2003.6" width="207.6" height="34.12" fill="#f4da84" stroke="#8e9596" stroke-width="2.7"/>
<rect x="1461.8" y="2003.6" width="206.2" height="34.12" fill="#f4f5aa" stroke="#8e9596" stroke-width="2.7"/>
<rect x="1668.0" y="2003.6" width="206.8" height="34.12" fill="#89b6d5" stroke="#8e9596" stroke-width="2.7"/>
<text x="1898.3" y="2033.9" font-size="34.5" text-anchor="start" fill="#1a1a1a">SLC2A2_human</text>
<rect x="1254.2" y="2037.8" width="207.6" height="34.12" fill="#f4e492" stroke="#8e9596" stroke-width="2.7"/>
<rect x="1461.8" y="2037.8" width="206.2" height="34.12" fill="#f4f4a8" stroke="#8e9596" stroke-width="2.7"/>
<rect x="1668.0" y="2037.8" width="206.8" height="34.12" fill="#a7cce0" stroke="#8e9596" stroke-width="2.7"/>
<text x="1898.3" y="2068.0" font-size="34.5" text-anchor="start" fill="#1a1a1a">SLC2A2_mouse</text>
<rect x="1254.2" y="2071.9" width="207.6" height="34.12" fill="#f4e492" stroke="#8e9596" stroke-width="2.7"/>
<rect x="1461.8" y="2071.9" width="206.2" height="34.12" fill="#f4f5aa" stroke="#8e9596" stroke-width="2.7"/>
<rect x="1668.0" y="2071.9" width="206.8" height="34.12" fill="#a7cce0" stroke="#8e9596" stroke-width="2.7"/>
<text x="1898.3" y="2102.1" font-size="34.5" text-anchor="start" fill="#1a1a1a">SLC2A2_rat</text>
<line x1="1668.2" y1="1969.5" x2="1668.2" y2="2106.0" stroke="#8e9596" stroke-width="5.0"/>
<rect x="1254.2" y="2118.3" width="207.6" height="34.12" fill="#e3f2db" stroke="#8e9596" stroke-width="2.7"/>
<rect x="1461.8" y="2118.3" width="206.2" height="34.12" fill="#f4ea9a" stroke="#8e9596" stroke-width="2.7"/>
<rect x="1668.0" y="2118.3" width="206.8" height="34.12" fill="#4e76b4" stroke="#8e9596" stroke-width="2.7"/>
<text x="1898.3" y="2148.6" font-size="34.5" text-anchor="start" fill="#1a1a1a">SLC2A5_guineapig</text>
<rect x="1254.2" y="2152.4" width="207.6" height="34.12" fill="#f4da84" stroke="#8e9596" stroke-width="2.7"/>
<rect x="1461.8" y="2152.4" width="206.2" height="34.12" fill="#f4f4a8" stroke="#8e9596" stroke-width="2.7"/>
<rect x="1668.0" y="2152.4" width="206.8" height="34.12" fill="#89b6d5" stroke="#8e9596" stroke-width="2.7"/>
<text x="1898.3" y="2182.7" font-size="34.5" text-anchor="start" fill="#1a1a1a">SLC2A5_human</text>
<rect x="1254.2" y="2186.6" width="207.6" height="34.12" fill="#f4e694" stroke="#8e9596" stroke-width="2.7"/>
<rect x="1461.8" y="2186.6" width="206.2" height="34.12" fill="#f4ed9e" stroke="#8e9596" stroke-width="2.7"/>
<rect x="1668.0" y="2186.6" width="206.8" height="34.12" fill="#9fc7de" stroke="#8e9596" stroke-width="2.7"/>
<text x="1898.3" y="2216.8" font-size="34.5" text-anchor="start" fill="#1a1a1a">SLC2A5_mouse</text>
<rect x="1254.2" y="2220.7" width="207.6" height="34.12" fill="#f2f4b1" stroke="#8e9596" stroke-width="2.7"/>
<rect x="1461.8" y="2220.7" width="206.2" height="34.12" fill="#f4cc7c" stroke="#8e9596" stroke-width="2.7"/>
<rect x="1668.0" y="2220.7" width="206.8" height="34.12" fill="#a7cce0" stroke="#8e9596" stroke-width="2.7"/>
<text x="1898.3" y="2250.9" font-size="34.5" text-anchor="start" fill="#1a1a1a">SLC2A5_rat</text>
<line x1="1668.2" y1="2118.3" x2="1668.2" y2="2254.8" stroke="#8e9596" stroke-width="5.0"/>
<rect x="1254.2" y="2264.8" width="207.6" height="34.12" fill="#dcf0f0" stroke="#8e9596" stroke-width="2.7"/>
<rect x="1461.8" y="2264.8" width="206.2" height="34.12" fill="#e8f2cd" stroke="#8e9596" stroke-width="2.7"/>
<rect x="1668.0" y="2264.8" width="206.8" height="34.12" fill="#f07e54" stroke="#8e9596" stroke-width="2.7"/>
<text x="1898.3" y="2295.1" font-size="34.5" text-anchor="start" fill="#1a1a1a">SLC31A2_guineapig</text>
<rect x="1254.2" y="2298.9" width="207.6" height="34.12" fill="#bedce7" stroke="#8e9596" stroke-width="2.7"/>
<rect x="1461.8" y="2298.9" width="206.2" height="34.12" fill="#f4c075" stroke="#8e9596" stroke-width="2.7"/>
<rect x="1668.0" y="2298.9" width="206.8" height="34.12" fill="#c5e1e9" stroke="#8e9596" stroke-width="2.7"/>
<text x="1898.3" y="2329.2" font-size="34.5" text-anchor="start" fill="#1a1a1a">SLC31A2_human</text>
<rect x="1254.2" y="2333.1" width="207.6" height="34.12" fill="#ddf0ec" stroke="#8e9596" stroke-width="2.7"/>
<rect x="1461.8" y="2333.1" width="206.2" height="34.12" fill="#86b2d3" stroke="#8e9596" stroke-width="2.7"/>
<rect x="1668.0" y="2333.1" width="206.8" height="34.12" fill="#f4c678" stroke="#8e9596" stroke-width="2.7"/>
<text x="1898.3" y="2363.3" font-size="34.5" text-anchor="start" fill="#1a1a1a">SLC31A2_mouse</text>
<rect x="1254.2" y="2367.2" width="207.6" height="34.12" fill="#a3cadf" stroke="#8e9596" stroke-width="2.7"/>
<rect x="1461.8" y="2367.2" width="206.2" height="34.12" fill="#c5e1e9" stroke="#8e9596" stroke-width="2.7"/>
<rect x="1668.0" y="2367.2" width="206.8" height="34.12" fill="#f4c075" stroke="#8e9596" stroke-width="2.7"/>
<text x="1898.3" y="2397.4" font-size="34.5" text-anchor="start" fill="#1a1a1a">SLC31A2_rat</text>
<line x1="1668.2" y1="2264.8" x2="1668.2" y2="2401.3" stroke="#8e9596" stroke-width="5.0"/>
<rect x="1254.2" y="2411.8" width="207.6" height="34.12" fill="#f4efa2" stroke="#8e9596" stroke-width="2.7"/>
<rect x="1461.8" y="2411.8" width="206.2" height="34.12" fill="#f3f5ae" stroke="#8e9596" stroke-width="2.7"/>
<rect x="1668.0" y="2411.8" width="206.8" height="34.12" fill="#4a72b2" stroke="#8e9596" stroke-width="2.7"/>
<text x="1898.3" y="2442.1" font-size="34.5" text-anchor="start" fill="#1a1a1a">SLC3A2_guineapig</text>
<rect x="1254.2" y="2445.9" width="207.6" height="34.12" fill="#a7cce0" stroke="#8e9596" stroke-width="2.7"/>
<rect x="1461.8" y="2445.9" width="206.2" height="34.12" fill="#f4c678" stroke="#8e9596" stroke-width="2.7"/>
<rect x="1668.0" y="2445.9" width="206.8" height="34.12" fill="#d8edef" stroke="#8e9596" stroke-width="2.7"/>
<text x="1898.3" y="2476.2" font-size="34.5" text-anchor="start" fill="#1a1a1a">SLC3A2_human</text>
<rect x="1254.2" y="2480.1" width="207.6" height="34.12" fill="#eff4b8" stroke="#8e9596" stroke-width="2.7"/>
<rect x="1461.8" y="2480.1" width="206.2" height="34.12" fill="#f4c678" stroke="#8e9596" stroke-width="2.7"/>
<rect x="1668.0" y="2480.1" width="206.8" height="34.12" fill="#9fc7de" stroke="#8e9596" stroke-width="2.7"/>
<text x="1898.3" y="2510.3" font-size="34.5" text-anchor="start" fill="#1a1a1a">SLC3A2_mouse</text>
<rect x="1254.2" y="2514.2" width="207.6" height="34.12" fill="#f4f5aa" stroke="#8e9596" stroke-width="2.7"/>
<rect x="1461.8" y="2514.2" width="206.2" height="34.12" fill="#f4d37f" stroke="#8e9596" stroke-width="2.7"/>
<rect x="1668.0" y="2514.2" width="206.8" height="34.12" fill="#9fc7de" stroke="#8e9596" stroke-width="2.7"/>
<text x="1898.3" y="2544.4" font-size="34.5" text-anchor="start" fill="#1a1a1a">SLC3A2_rat</text>
<line x1="1668.2" y1="2411.8" x2="1668.2" y2="2548.3" stroke="#8e9596" stroke-width="5.0"/>
<text x="1371.0" y="2590.0" font-size="38" text-anchor="middle" fill="#1a1a1a">duo</text>
<text x="1566.0" y="2590.0" font-size="38" text-anchor="middle" fill="#1a1a1a">jej / ile</text>
<text x="1762.0" y="2590.0" font-size="38" text-anchor="middle" fill="#1a1a1a">col</text>
<defs><linearGradient id="cb1" x1="0" y1="0" x2="0" y2="1"><stop offset="0.000" stop-color="#d3322c"/><stop offset="0.115" stop-color="#e24a42"/><stop offset="0.140" stop-color="#f56c5c"/><stop offset="0.200" stop-color="#f27d54"/><stop offset="0.270" stop-color="#f5985c"/><stop offset="0.320" stop-color="#f5bc70"/><stop offset="0.380" stop-color="#f4d47e"/><stop offset="0.440" stop-color="#f3e48c"/><stop offset="0.500" stop-color="#f1f3a0"/><stop offset="0.560" stop-color="#e9f4bc"/><stop offset="0.630" stop-color="#def1dc"/><stop offset="0.700" stop-color="#d2e8ee"/><stop offset="0.770" stop-color="#b2d4e4"/><stop offset="0.845" stop-color="#8fbdd7"/><stop offset="0.920" stop-color="#6f9fca"/><stop offset="1.000" stop-color="#4f72b0"/></linearGradient></defs>
<rect x="1079.5" y="1527.7" width="49.1" height="262.5" fill="url(#cb1)"/>
<text x="1177.0" y="1554.8" font-size="34" text-anchor="end" fill="#1a1a1a">2</text>
<text x="1177.0" y="1638.2" font-size="34" text-anchor="end" fill="#1a1a1a">1</text>
<text x="1177.0" y="1715.5" font-size="34" text-anchor="end" fill="#1a1a1a">0</text>
<text x="1177.0" y="1788.0" font-size="34" text-anchor="end" fill="#1a1a1a">-1</text>
<defs><linearGradient id="cb2" x1="0" y1="0" x2="0" y2="1"><stop offset="0.000" stop-color="#d3322c"/><stop offset="0.115" stop-color="#e24a42"/><stop offset="0.140" stop-color="#f56c5c"/><stop offset="0.200" stop-color="#f27d54"/><stop offset="0.270" stop-color="#f5985c"/><stop offset="0.320" stop-color="#f5bc70"/><stop offset="0.380" stop-color="#f4d47e"/><stop offset="0.440" stop-color="#f3e48c"/><stop offset="0.500" stop-color="#f1f3a0"/><stop offset="0.560" stop-color="#e9f4bc"/><stop offset="0.630" stop-color="#def1dc"/><stop offset="0.700" stop-color="#d2e8ee"/><stop offset="0.770" stop-color="#b2d4e4"/><stop offset="0.845" stop-color="#8fbdd7"/><stop offset="0.920" stop-color="#6f9fca"/><stop offset="1.000" stop-color="#4f72b0"/></linearGradient></defs>
<rect x="2251.7" y="1531.2" width="49.9" height="261.6" fill="url(#cb2)"/>
<text x="2356.0" y="1563.0" font-size="34" text-anchor="end" fill="#1a1a1a">2</text>
<text x="2356.0" y="1638.5" font-size="34" text-anchor="end" fill="#1a1a1a">1</text>
<text x="2356.0" y="1713.0" font-size="34" text-anchor="end" fill="#1a1a1a">0</text>
<text x="2356.0" y="1790.0" font-size="34" text-anchor="end" fill="#1a1a1a">-1</text>
</svg>
</body>
</html>
